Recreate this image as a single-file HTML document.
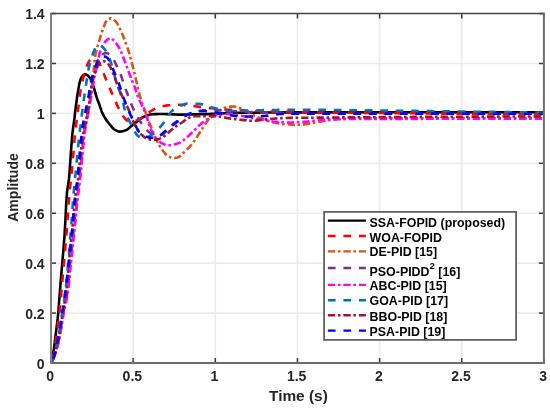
<!DOCTYPE html>
<html><head><meta charset="utf-8"><style>
html,body{margin:0;padding:0;background:#fff;}
body{width:550px;height:412px;overflow:hidden;}
svg{display:block;}
text{font-family:"Liberation Sans",Arial,sans-serif;font-weight:bold;}
</style></head><body>
<svg width="550" height="412" viewBox="0 0 550 412">
<rect width="550" height="412" fill="#fff"/>
<defs><clipPath id="ax"><rect x="51.0" y="13.55" width="492.90" height="349.45"/></clipPath></defs>
<g stroke="#ebebeb" stroke-width="1.6"><line x1="133.15" y1="13.55" x2="133.15" y2="363.00"/><line x1="215.30" y1="13.55" x2="215.30" y2="363.00"/><line x1="297.45" y1="13.55" x2="297.45" y2="363.00"/><line x1="379.60" y1="13.55" x2="379.60" y2="363.00"/><line x1="461.75" y1="13.55" x2="461.75" y2="363.00"/><line x1="51.00" y1="313.08" x2="543.90" y2="313.08"/><line x1="51.00" y1="263.16" x2="543.90" y2="263.16"/><line x1="51.00" y1="213.24" x2="543.90" y2="213.24"/><line x1="51.00" y1="163.31" x2="543.90" y2="163.31"/><line x1="51.00" y1="113.39" x2="543.90" y2="113.39"/><line x1="51.00" y1="63.47" x2="543.90" y2="63.47"/></g>
<g fill="none" stroke-width="2.6" stroke-linejoin="round" clip-path="url(#ax)">
<path d="M51.0 363.0 L51.7 360.2 L52.5 356.9 L53.2 353.0 L53.9 349.0 L54.5 344.3 L55.1 339.2 L55.8 334.0 L56.4 329.1 L57.0 324.0 L57.7 318.5 L58.3 312.3 L59.0 303.0 L59.8 293.0 L60.4 285.2 L61.0 277.6 L61.7 270.1 L62.3 262.5 L63.1 253.5 L63.8 244.6 L64.6 234.5 L65.4 220.2 L66.2 204.1 L67.0 192.3 L67.7 187.4 L68.3 183.7 L69.0 178.9 L69.6 171.5 L70.2 162.8 L70.9 152.5 L71.7 142.2 L72.4 133.7 L73.1 127.9 L73.8 123.1 L74.5 118.0 L75.2 111.4 L76.0 105.0 L76.7 100.1 L77.3 95.5 L78.0 91.5 L78.6 87.9 L79.2 84.5 L79.9 81.6 L80.5 79.5 L81.3 77.8 L82.0 76.5 L82.8 75.6 L83.6 75.0 L84.3 74.5 L85.1 74.3 L85.8 74.4 L86.4 74.7 L87.1 75.1 L87.8 75.5 L88.6 76.2 L89.3 77.1 L90.1 78.2 L90.9 79.5 L91.6 81.1 L92.3 83.0 L93.1 85.2 L93.8 87.5 L94.5 89.9 L95.2 92.5 L96.0 95.1 L96.7 97.5 L97.4 99.5 L98.1 101.3 L98.8 103.1 L99.5 105.0 L100.1 106.8 L100.8 108.8 L101.4 110.6 L102.0 112.2 L102.8 113.9 L103.6 115.5 L104.4 116.9 L105.2 118.2 L106.0 119.5 L106.8 120.7 L107.6 121.8 L108.4 122.8 L109.2 123.8 L110.0 124.8 L110.8 125.7 L111.5 126.6 L112.2 127.5 L113.0 128.3 L113.8 129.0 L114.5 129.5 L115.3 130.0 L116.1 130.5 L117.0 130.9 L117.8 131.3 L118.6 131.5 L119.4 131.6 L120.2 131.6 L121.0 131.5 L121.8 131.4 L122.6 131.2 L123.4 131.0 L124.2 130.8 L125.0 130.6 L125.8 130.3 L126.6 129.9 L127.4 129.4 L128.2 128.8 L129.0 128.2 L129.7 127.5 L130.5 126.8 L131.3 126.1 L132.1 125.4 L132.9 124.7 L133.7 124.1 L134.5 123.5 L135.3 122.9 L136.1 122.3 L136.8 121.6 L137.6 121.0 L138.4 120.4 L139.2 119.7 L140.0 119.1 L140.8 118.6 L141.5 118.1 L142.3 117.6 L143.1 117.2 L143.9 116.8 L144.7 116.5 L145.5 116.1 L146.3 115.8 L147.1 115.5 L147.9 115.2 L148.7 115.0 L149.5 114.7 L150.3 114.5 L151.1 114.4 L151.9 114.3 L152.7 114.2 L153.5 114.2 L154.3 114.1 L155.0 114.1 L155.8 114.1 L156.6 114.1 L157.4 114.1 L158.1 114.0 L158.9 114.0 L159.7 114.0 L160.5 114.0 L161.2 114.0 L162.0 114.0 L162.8 114.0 L163.6 114.0 L164.4 114.0 L165.3 114.0 L166.1 114.1 L166.9 114.1 L167.7 114.1 L168.5 114.2 L169.4 114.2 L170.2 114.2 L171.0 114.3 L171.8 114.3 L172.6 114.4 L173.4 114.4 L174.3 114.4 L175.1 114.5 L175.9 114.5 L176.7 114.5 L177.5 114.6 L178.4 114.6 L179.2 114.6 L180.0 114.6 L180.8 114.6 L181.6 114.6 L182.4 114.6 L183.2 114.6 L184.0 114.6 L184.8 114.6 L185.6 114.6 L186.4 114.6 L187.2 114.5 L188.0 114.5 L188.8 114.5 L189.6 114.5 L190.4 114.5 L191.2 114.5 L192.0 114.5 L192.8 114.4 L193.6 114.4 L194.4 114.4 L195.2 114.4 L196.0 114.4 L196.8 114.4 L197.6 114.3 L198.4 114.3 L199.2 114.3 L200.0 114.3 L200.8 114.3 L201.6 114.3 L202.4 114.2 L203.3 114.2 L204.1 114.2 L204.9 114.2 L205.7 114.1 L206.5 114.1 L207.3 114.1 L208.2 114.0 L209.0 114.0 L209.8 114.0 L210.6 113.9 L211.4 113.9 L212.2 113.9 L213.1 113.8 L213.9 113.8 L214.7 113.8 L215.5 113.7 L216.3 113.7 L217.1 113.6 L218.0 113.6 L218.8 113.6 L219.6 113.5 L220.4 113.5 L221.2 113.4 L222.0 113.4 L222.9 113.4 L223.7 113.3 L224.5 113.3 L225.3 113.3 L226.1 113.2 L226.9 113.2 L227.8 113.2 L228.6 113.1 L229.4 113.1 L230.2 113.1 L231.0 113.0 L231.8 113.0 L232.7 113.0 L233.5 112.9 L234.3 112.9 L235.1 112.9 L235.9 112.9 L236.7 112.9 L237.6 112.8 L238.4 112.8 L239.2 112.8 L240.0 112.8 L240.8 112.8 L241.6 112.8 L242.5 112.8 L243.3 112.8 L244.1 112.8 L244.9 112.7 L245.8 112.7 L246.6 112.7 L247.4 112.7 L248.2 112.7 L249.0 112.7 L249.9 112.7 L250.7 112.7 L251.5 112.7 L252.3 112.7 L253.2 112.7 L254.0 112.7 L254.8 112.6 L255.6 112.6 L256.4 112.6 L257.3 112.6 L258.1 112.6 L258.9 112.6 L259.7 112.6 L260.5 112.6 L261.4 112.6 L262.2 112.6 L263.0 112.6 L263.8 112.6 L264.7 112.6 L265.5 112.6 L266.3 112.5 L267.1 112.5 L267.9 112.5 L268.8 112.5 L269.6 112.5 L270.4 112.5 L271.2 112.5 L272.1 112.5 L272.9 112.5 L273.7 112.5 L274.5 112.5 L275.3 112.5 L276.2 112.5 L277.0 112.5 L277.8 112.5 L278.6 112.5 L279.5 112.5 L280.3 112.5 L281.1 112.5 L281.9 112.5 L282.7 112.5 L283.6 112.4 L284.4 112.4 L285.2 112.4 L286.0 112.4 L286.8 112.4 L287.7 112.4 L288.5 112.4 L289.3 112.4 L290.1 112.4 L291.0 112.4 L291.8 112.4 L292.6 112.4 L293.4 112.4 L294.2 112.4 L295.1 112.4 L295.9 112.4 L296.7 112.4 L297.5 112.4 L298.4 112.4 L299.2 112.4 L300.0 112.4 L300.8 112.4 L301.7 112.4 L302.5 112.4 L303.3 112.4 L304.2 112.4 L305.0 112.4 L305.8 112.4 L306.7 112.4 L307.5 112.4 L308.3 112.4 L309.2 112.4 L310.0 112.4 L310.8 112.4 L311.7 112.4 L312.5 112.4 L313.3 112.4 L314.2 112.4 L315.0 112.4 L315.8 112.4 L316.7 112.4 L317.5 112.4 L318.3 112.4 L319.2 112.4 L320.0 112.4 L320.8 112.4 L321.7 112.4 L322.5 112.4 L323.3 112.4 L324.2 112.4 L325.0 112.4 L325.8 112.4 L326.6 112.4 L327.5 112.4 L328.3 112.4 L329.1 112.4 L330.0 112.4 L330.8 112.4 L331.6 112.3 L332.5 112.3 L333.3 112.3 L334.1 112.3 L335.0 112.3 L335.8 112.3 L336.6 112.3 L337.5 112.3 L338.3 112.3 L339.1 112.3 L340.0 112.3 L340.8 112.3 L341.6 112.3 L342.5 112.3 L343.3 112.3 L344.1 112.3 L345.0 112.3 L345.8 112.3 L346.6 112.3 L347.5 112.3 L348.3 112.3 L349.1 112.3 L350.0 112.3 L350.8 112.3 L351.6 112.3 L352.5 112.3 L353.3 112.3 L354.1 112.3 L355.0 112.3 L355.8 112.3 L356.6 112.3 L357.5 112.3 L358.3 112.3 L359.1 112.3 L360.0 112.3 L360.8 112.3 L361.6 112.3 L362.5 112.3 L363.3 112.3 L364.1 112.3 L365.0 112.3 L365.8 112.3 L366.6 112.3 L367.5 112.3 L368.3 112.3 L369.1 112.3 L370.0 112.3 L370.8 112.3 L371.6 112.3 L372.5 112.3 L373.3 112.3 L374.1 112.3 L374.9 112.3 L375.8 112.3 L376.6 112.3 L377.4 112.3 L378.3 112.3 L379.1 112.3 L379.9 112.3 L380.8 112.3 L381.6 112.3 L382.4 112.3 L383.3 112.3 L384.1 112.3 L384.9 112.3 L385.8 112.3 L386.6 112.3 L387.4 112.3 L388.3 112.3 L389.1 112.3 L389.9 112.3 L390.8 112.3 L391.6 112.3 L392.4 112.3 L393.3 112.3 L394.1 112.3 L394.9 112.3 L395.8 112.3 L396.6 112.3 L397.4 112.3 L398.3 112.3 L399.1 112.3 L399.9 112.3 L400.8 112.3 L401.6 112.3 L402.4 112.3 L403.3 112.3 L404.1 112.3 L404.9 112.3 L405.8 112.3 L406.6 112.3 L407.4 112.3 L408.3 112.3 L409.1 112.3 L409.9 112.3 L410.8 112.3 L411.6 112.3 L412.4 112.3 L413.3 112.3 L414.1 112.3 L414.9 112.3 L415.8 112.3 L416.6 112.3 L417.4 112.3 L418.3 112.3 L419.1 112.2 L419.9 112.2 L420.8 112.2 L421.6 112.2 L422.4 112.2 L423.2 112.2 L424.1 112.2 L424.9 112.2 L425.7 112.2 L426.6 112.2 L427.4 112.2 L428.2 112.2 L429.1 112.2 L429.9 112.2 L430.7 112.2 L431.6 112.2 L432.4 112.2 L433.2 112.2 L434.1 112.2 L434.9 112.2 L435.7 112.2 L436.6 112.2 L437.4 112.2 L438.2 112.2 L439.1 112.2 L439.9 112.2 L440.7 112.2 L441.6 112.2 L442.4 112.2 L443.2 112.2 L444.1 112.2 L444.9 112.2 L445.7 112.2 L446.6 112.2 L447.4 112.2 L448.2 112.2 L449.1 112.2 L449.9 112.2 L450.7 112.2 L451.6 112.2 L452.4 112.2 L453.2 112.2 L454.1 112.2 L454.9 112.2 L455.7 112.2 L456.6 112.2 L457.4 112.2 L458.2 112.2 L459.1 112.2 L459.9 112.2 L460.7 112.2 L461.6 112.2 L462.4 112.2 L463.2 112.2 L464.1 112.2 L464.9 112.2 L465.7 112.2 L466.6 112.2 L467.4 112.2 L468.2 112.2 L469.1 112.2 L469.9 112.2 L470.7 112.2 L471.5 112.2 L472.4 112.2 L473.2 112.2 L474.0 112.2 L474.9 112.2 L475.7 112.2 L476.5 112.2 L477.4 112.2 L478.2 112.2 L479.0 112.2 L479.9 112.2 L480.7 112.2 L481.5 112.2 L482.4 112.2 L483.2 112.2 L484.0 112.2 L484.9 112.2 L485.7 112.2 L486.5 112.2 L487.4 112.2 L488.2 112.2 L489.0 112.2 L489.9 112.2 L490.7 112.2 L491.5 112.2 L492.4 112.2 L493.2 112.2 L494.0 112.2 L494.9 112.2 L495.7 112.2 L496.5 112.2 L497.4 112.2 L498.2 112.2 L499.0 112.2 L499.9 112.2 L500.7 112.2 L501.5 112.2 L502.4 112.2 L503.2 112.2 L504.0 112.2 L504.9 112.2 L505.7 112.2 L506.5 112.2 L507.4 112.2 L508.2 112.2 L509.0 112.2 L509.9 112.2 L510.7 112.2 L511.5 112.2 L512.4 112.2 L513.2 112.2 L514.0 112.2 L514.9 112.2 L515.7 112.2 L516.5 112.2 L517.4 112.2 L518.2 112.2 L519.0 112.2 L519.8 112.2 L520.7 112.2 L521.5 112.2 L522.3 112.2 L523.2 112.2 L524.0 112.2 L524.8 112.2 L525.7 112.2 L526.5 112.2 L527.3 112.2 L528.2 112.2 L529.0 112.2 L529.8 112.2 L530.7 112.2 L531.5 112.2 L532.3 112.2 L533.2 112.2 L534.0 112.2 L534.8 112.2 L535.7 112.2 L536.5 112.2 L537.3 112.2 L538.2 112.2 L539.0 112.2 L539.8 112.2 L540.7 112.2 L541.5 112.2 L542.3 112.2 L543.2 112.2 L544.0 112.2" stroke="#000000"/>
<path d="M51.0 363.0 L51.7 361.3 L52.5 359.0 L53.2 356.1 L53.9 353.0 L54.6 349.2 L55.3 344.5 L56.1 339.3 L56.8 334.0 L57.5 329.0 L58.1 323.8 L58.8 318.3 L59.5 312.3 L60.1 306.3 L60.7 299.7 L61.3 293.0 L62.0 285.5 L62.6 277.9 L63.3 270.2 L64.0 262.5 L64.8 253.4 L65.6 244.1 L66.4 234.5 L67.2 224.0 L68.0 212.8 L68.8 201.9 L69.6 192.3 L70.3 185.5 L71.0 178.9 L71.8 171.0 L72.5 162.8 L73.2 155.4 L73.8 147.7 L74.4 140.3 L75.1 133.7 L75.7 128.8 L76.2 124.4 L76.8 120.0 L77.5 114.4 L78.2 108.7 L78.8 103.6 L79.4 98.4 L80.0 94.0 L80.7 89.7 L81.5 86.0 L82.2 82.6 L82.9 79.5 L83.6 76.4 L84.4 73.5 L85.1 70.8 L85.9 68.4 L86.6 66.4 L87.3 64.8 L88.0 63.3 L88.6 62.0 L89.3 61.0 L90.0 60.2 L90.8 59.5 L91.6 58.8 L92.4 58.3 L93.2 57.9 L94.0 57.8 L94.8 58.0 L95.6 58.4 L96.4 59.1 L97.2 59.9 L98.0 60.8 L98.8 61.9 L99.5 63.5 L100.3 65.3 L101.0 67.2 L101.8 69.0 L102.5 70.7 L103.3 72.5 L104.0 74.3 L104.8 76.2 L105.5 78.1 L106.2 79.9 L107.0 81.7 L107.7 83.5 L108.5 85.4 L109.4 87.3 L110.2 89.2 L111.0 91.0 L111.8 92.9 L112.7 94.7 L113.5 96.6 L114.2 98.3 L115.0 100.0 L115.7 101.7 L116.4 103.5 L117.1 105.1 L117.9 106.7 L118.6 108.2 L119.4 109.7 L120.1 111.2 L120.9 112.6 L121.7 114.0 L122.5 115.2 L123.2 116.3 L124.0 117.3 L124.7 118.1 L125.4 118.9 L126.1 119.7 L126.9 120.4 L127.6 121.0 L128.3 121.4 L129.0 121.5 L129.7 121.5 L130.4 121.5 L131.1 121.4 L131.9 121.4 L132.6 121.3 L133.3 121.3 L134.0 121.2 L134.7 121.1 L135.4 120.9 L136.1 120.6 L136.9 120.3 L137.6 120.0 L138.3 119.6 L139.0 119.3 L139.8 118.9 L140.6 118.5 L141.4 118.1 L142.3 117.7 L143.1 117.2 L143.9 116.7 L144.7 116.2 L145.5 115.6 L146.3 115.0 L147.1 114.3 L147.8 113.6 L148.6 112.9 L149.4 112.2 L150.2 111.5 L151.0 111.0 L151.8 110.5 L152.6 110.1 L153.3 109.6 L154.1 109.2 L154.9 108.8 L155.7 108.4 L156.4 108.1 L157.2 107.8 L158.0 107.5 L158.8 107.2 L159.6 107.0 L160.5 106.8 L161.3 106.6 L162.1 106.4 L162.9 106.2 L163.7 106.0 L164.5 105.9 L165.4 105.7 L166.2 105.6 L167.0 105.5 L167.8 105.4 L168.5 105.3 L169.3 105.3 L170.1 105.2 L170.8 105.1 L171.6 105.0 L172.4 105.0 L173.2 104.9 L173.9 104.9 L174.7 104.9 L175.5 104.8 L176.2 104.8 L177.0 104.8 L177.8 104.8 L178.5 104.8 L179.3 104.8 L180.1 104.9 L180.8 104.9 L181.6 104.9 L182.4 104.9 L183.2 105.0 L183.9 105.0 L184.7 105.1 L185.5 105.1 L186.2 105.2 L187.0 105.2 L187.8 105.3 L188.6 105.3 L189.4 105.4 L190.2 105.5 L191.0 105.6 L191.8 105.7 L192.6 105.8 L193.4 106.0 L194.2 106.1 L195.0 106.2 L195.8 106.3 L196.6 106.5 L197.4 106.6 L198.2 106.7 L199.0 106.8 L199.8 106.9 L200.6 107.0 L201.5 107.1 L202.3 107.2 L203.1 107.3 L203.9 107.4 L204.8 107.5 L205.6 107.6 L206.4 107.7 L207.2 107.8 L208.1 107.9 L208.9 108.0 L209.7 108.1 L210.5 108.2 L211.4 108.2 L212.2 108.3 L213.0 108.4 L213.8 108.5 L214.6 108.6 L215.4 108.6 L216.2 108.7 L217.0 108.8 L217.9 108.9 L218.7 108.9 L219.5 109.0 L220.3 109.1 L221.1 109.2 L221.9 109.2 L222.7 109.3 L223.5 109.4 L224.3 109.4 L225.1 109.5 L226.0 109.5 L226.8 109.6 L227.6 109.7 L228.4 109.7 L229.2 109.8 L230.0 109.8 L230.8 109.8 L231.6 109.9 L232.5 109.9 L233.3 110.0 L234.1 110.0 L234.9 110.1 L235.8 110.1 L236.6 110.1 L237.4 110.2 L238.2 110.2 L239.1 110.3 L239.9 110.3 L240.7 110.3 L241.5 110.4 L242.4 110.4 L243.2 110.4 L244.0 110.5 L244.8 110.5 L245.6 110.6 L246.5 110.6 L247.3 110.6 L248.1 110.7 L248.9 110.7 L249.8 110.7 L250.6 110.8 L251.4 110.8 L252.2 110.8 L253.1 110.9 L253.9 110.9 L254.7 110.9 L255.5 111.0 L256.4 111.0 L257.2 111.0 L258.0 111.1 L258.8 111.1 L259.6 111.1 L260.5 111.2 L261.3 111.2 L262.1 111.2 L262.9 111.3 L263.8 111.3 L264.6 111.3 L265.4 111.3 L266.2 111.4 L267.1 111.4 L267.9 111.4 L268.7 111.4 L269.5 111.5 L270.4 111.5 L271.2 111.5 L272.0 111.5 L272.8 111.6 L273.6 111.6 L274.5 111.6 L275.3 111.6 L276.1 111.7 L276.9 111.7 L277.8 111.7 L278.6 111.7 L279.4 111.8 L280.2 111.8 L281.1 111.8 L281.9 111.8 L282.7 111.8 L283.5 111.9 L284.4 111.9 L285.2 111.9 L286.0 111.9 L286.8 111.9 L287.6 112.0 L288.5 112.0 L289.3 112.0 L290.1 112.0 L290.9 112.0 L291.8 112.1 L292.6 112.1 L293.4 112.1 L294.2 112.1 L295.1 112.1 L295.9 112.1 L296.7 112.1 L297.5 112.2 L298.4 112.2 L299.2 112.2 L300.0 112.2 L300.8 112.2 L301.7 112.2 L302.5 112.2 L303.3 112.3 L304.1 112.3 L305.0 112.3 L305.8 112.3 L306.6 112.3 L307.4 112.3 L308.3 112.3 L309.1 112.3 L309.9 112.3 L310.7 112.4 L311.6 112.4 L312.4 112.4 L313.2 112.4 L314.0 112.4 L314.9 112.4 L315.7 112.4 L316.5 112.4 L317.4 112.4 L318.2 112.5 L319.0 112.5 L319.8 112.5 L320.7 112.5 L321.5 112.5 L322.3 112.5 L323.1 112.5 L324.0 112.5 L324.8 112.5 L325.6 112.5 L326.4 112.6 L327.3 112.6 L328.1 112.6 L328.9 112.6 L329.8 112.6 L330.6 112.6 L331.4 112.6 L332.2 112.6 L333.1 112.6 L333.9 112.6 L334.7 112.6 L335.5 112.6 L336.4 112.7 L337.2 112.7 L338.0 112.7 L338.8 112.7 L339.7 112.7 L340.5 112.7 L341.3 112.7 L342.1 112.7 L343.0 112.7 L343.8 112.7 L344.6 112.7 L345.5 112.7 L346.3 112.7 L347.1 112.8 L347.9 112.8 L348.8 112.8 L349.6 112.8 L350.4 112.8 L351.2 112.8 L352.1 112.8 L352.9 112.8 L353.7 112.8 L354.5 112.8 L355.4 112.8 L356.2 112.8 L357.0 112.8 L357.9 112.8 L358.7 112.9 L359.5 112.9 L360.3 112.9 L361.2 112.9 L362.0 112.9 L362.8 112.9 L363.6 112.9 L364.5 112.9 L365.3 112.9 L366.1 112.9 L366.9 112.9 L367.8 112.9 L368.6 112.9 L369.4 112.9 L370.2 112.9 L371.1 113.0 L371.9 113.0 L372.7 113.0 L373.6 113.0 L374.4 113.0 L375.2 113.0 L376.0 113.0 L376.9 113.0 L377.7 113.0 L378.5 113.0 L379.3 113.0 L380.2 113.0 L381.0 113.0 L381.8 113.0 L382.6 113.0 L383.5 113.1 L384.3 113.1 L385.1 113.1 L386.0 113.1 L386.8 113.1 L387.6 113.1 L388.4 113.1 L389.3 113.1 L390.1 113.1 L390.9 113.1 L391.7 113.1 L392.6 113.1 L393.4 113.1 L394.2 113.1 L395.0 113.2 L395.9 113.2 L396.7 113.2 L397.5 113.2 L398.3 113.2 L399.2 113.2 L400.0 113.2 L400.8 113.2 L401.7 113.2 L402.5 113.2 L403.3 113.2 L404.2 113.2 L405.0 113.2 L405.8 113.3 L406.7 113.3 L407.5 113.3 L408.3 113.3 L409.2 113.3 L410.0 113.3 L410.8 113.3 L411.7 113.3 L412.5 113.3 L413.3 113.3 L414.2 113.3 L415.0 113.3 L415.8 113.3 L416.6 113.4 L417.5 113.4 L418.3 113.4 L419.1 113.4 L420.0 113.4 L420.8 113.4 L421.6 113.4 L422.5 113.4 L423.3 113.4 L424.1 113.4 L425.0 113.4 L425.8 113.4 L426.6 113.5 L427.5 113.5 L428.3 113.5 L429.1 113.5 L430.0 113.5 L430.8 113.5 L431.6 113.5 L432.5 113.5 L433.3 113.5 L434.1 113.5 L435.0 113.5 L435.8 113.5 L436.6 113.5 L437.5 113.6 L438.3 113.6 L439.1 113.6 L440.0 113.6 L440.8 113.6 L441.6 113.6 L442.5 113.6 L443.3 113.6 L444.1 113.6 L444.9 113.6 L445.8 113.6 L446.6 113.6 L447.4 113.6 L448.3 113.7 L449.1 113.7 L449.9 113.7 L450.8 113.7 L451.6 113.7 L452.4 113.7 L453.3 113.7 L454.1 113.7 L454.9 113.7 L455.8 113.7 L456.6 113.7 L457.4 113.7 L458.3 113.7 L459.1 113.8 L459.9 113.8 L460.8 113.8 L461.6 113.8 L462.4 113.8 L463.3 113.8 L464.1 113.8 L464.9 113.8 L465.8 113.8 L466.6 113.8 L467.4 113.8 L468.3 113.8 L469.1 113.8 L469.9 113.9 L470.8 113.9 L471.6 113.9 L472.4 113.9 L473.2 113.9 L474.1 113.9 L474.9 113.9 L475.7 113.9 L476.6 113.9 L477.4 113.9 L478.2 113.9 L479.1 113.9 L479.9 113.9 L480.7 113.9 L481.6 114.0 L482.4 114.0 L483.2 114.0 L484.1 114.0 L484.9 114.0 L485.7 114.0 L486.6 114.0 L487.4 114.0 L488.2 114.0 L489.1 114.0 L489.9 114.0 L490.7 114.0 L491.6 114.0 L492.4 114.1 L493.2 114.1 L494.1 114.1 L494.9 114.1 L495.7 114.1 L496.6 114.1 L497.4 114.1 L498.2 114.1 L499.1 114.1 L499.9 114.1 L500.7 114.1 L501.5 114.1 L502.4 114.1 L503.2 114.1 L504.0 114.2 L504.9 114.2 L505.7 114.2 L506.5 114.2 L507.4 114.2 L508.2 114.2 L509.0 114.2 L509.9 114.2 L510.7 114.2 L511.5 114.2 L512.4 114.2 L513.2 114.2 L514.0 114.2 L514.9 114.2 L515.7 114.3 L516.5 114.3 L517.4 114.3 L518.2 114.3 L519.0 114.3 L519.9 114.3 L520.7 114.3 L521.5 114.3 L522.4 114.3 L523.2 114.3 L524.0 114.3 L524.9 114.3 L525.7 114.3 L526.5 114.4 L527.4 114.4 L528.2 114.4 L529.0 114.4 L529.8 114.4 L530.7 114.4 L531.5 114.4 L532.3 114.4 L533.2 114.4 L534.0 114.4 L534.8 114.4 L535.7 114.4 L536.5 114.4 L537.3 114.4 L538.2 114.5 L539.0 114.5 L539.8 114.5 L540.7 114.5 L541.5 114.5 L542.3 114.5 L543.2 114.5 L544.0 114.5" stroke="#ff0000" stroke-dasharray="7.7 7.8" stroke-dashoffset="-4.5"/>
<path d="M51.0 363.0 L51.8 361.9 L52.5 360.6 L53.2 359.0 L54.0 357.1 L54.8 355.1 L55.5 353.0 L56.2 350.6 L57.0 347.8 L57.8 344.7 L58.5 341.3 L59.2 337.7 L60.0 334.0 L60.7 330.1 L61.4 325.7 L62.1 321.1 L62.8 316.5 L63.5 312.3 L64.3 308.4 L65.0 304.9 L65.8 301.4 L66.5 297.6 L67.3 293.0 L68.1 286.6 L68.9 278.8 L69.7 270.5 L70.5 262.5 L71.2 255.5 L72.0 248.5 L72.8 241.6 L73.5 234.5 L74.2 227.4 L74.9 220.1 L75.7 212.7 L76.4 205.5 L77.1 198.6 L77.8 192.3 L78.4 187.8 L79.0 183.6 L79.6 178.9 L80.3 171.1 L81.1 162.8 L81.8 155.0 L82.5 147.2 L83.3 139.9 L84.0 133.7 L84.7 128.7 L85.4 124.4 L86.2 120.4 L86.9 116.6 L87.6 112.8 L88.3 108.7 L89.0 104.7 L89.7 100.6 L90.3 96.4 L91.0 92.0 L91.7 87.1 L92.5 81.9 L93.2 76.0 L93.9 68.5 L94.6 61.0 L95.1 56.8 L95.6 53.5 L96.2 50.9 L96.8 48.9 L97.4 47.0 L98.1 44.5 L98.8 42.0 L99.6 39.6 L100.3 37.2 L100.9 35.2 L101.5 33.2 L102.2 31.3 L102.8 29.5 L103.6 27.4 L104.4 25.3 L105.1 23.3 L105.9 21.7 L106.7 20.7 L107.4 20.1 L108.1 19.5 L108.8 19.0 L109.6 18.6 L110.3 18.4 L111.0 18.3 L111.8 18.4 L112.6 18.8 L113.5 19.4 L114.3 20.1 L115.1 20.9 L115.9 21.7 L116.7 22.7 L117.5 23.9 L118.2 25.4 L119.0 26.9 L119.8 28.5 L120.5 29.9 L121.2 31.4 L121.8 33.0 L122.5 34.6 L123.2 36.3 L123.9 38.1 L124.7 40.0 L125.4 42.0 L126.1 44.0 L126.8 45.8 L127.4 47.6 L128.0 49.5 L128.7 51.5 L129.3 53.6 L129.9 55.8 L130.6 58.2 L131.2 60.5 L131.8 62.8 L132.4 65.2 L133.1 67.5 L133.7 70.0 L134.3 72.7 L135.0 75.4 L135.7 78.2 L136.3 81.0 L137.0 84.0 L137.7 87.0 L138.3 90.1 L139.0 92.9 L139.7 95.5 L140.5 98.2 L141.3 100.8 L142.1 103.1 L143.0 105.4 L143.8 107.6 L144.6 109.8 L145.4 112.0 L146.2 114.2 L147.0 116.4 L147.8 118.6 L148.6 120.7 L149.5 122.9 L150.3 125.0 L151.1 127.0 L151.9 129.0 L152.7 131.0 L153.5 133.0 L154.4 135.0 L155.2 137.0 L156.0 138.9 L156.8 140.7 L157.7 142.4 L158.5 144.0 L159.3 145.4 L160.2 146.8 L161.0 148.1 L161.8 149.3 L162.6 150.4 L163.5 151.5 L164.3 152.5 L165.0 153.3 L165.7 154.1 L166.4 154.9 L167.1 155.5 L167.8 156.1 L168.5 156.5 L169.2 156.8 L170.0 157.1 L170.7 157.4 L171.4 157.7 L172.1 157.8 L172.9 158.0 L173.6 158.0 L174.3 158.0 L175.1 157.9 L175.8 157.8 L176.5 157.7 L177.3 157.5 L178.0 157.3 L178.8 157.0 L179.5 156.5 L180.3 155.9 L181.0 155.2 L181.8 154.5 L182.5 153.7 L183.3 153.0 L184.1 152.3 L184.9 151.5 L185.7 150.7 L186.5 150.0 L187.3 149.1 L188.2 148.3 L189.0 147.5 L189.8 146.6 L190.6 145.7 L191.4 144.8 L192.2 143.8 L193.0 142.8 L193.8 141.8 L194.6 140.6 L195.4 139.4 L196.2 138.2 L197.0 136.9 L197.8 135.6 L198.7 134.3 L199.5 133.0 L200.3 131.7 L201.1 130.4 L201.9 129.2 L202.7 128.0 L203.5 126.8 L204.3 125.7 L205.0 124.5 L205.8 123.3 L206.6 122.1 L207.4 121.0 L208.2 119.9 L208.9 118.9 L209.7 118.0 L210.5 117.2 L211.3 116.5 L212.1 115.8 L212.8 115.1 L213.6 114.5 L214.4 113.9 L215.2 113.4 L216.0 112.9 L216.7 112.4 L217.5 111.9 L218.3 111.4 L219.1 110.9 L219.8 110.5 L220.6 110.0 L221.4 109.5 L222.2 109.1 L222.9 108.7 L223.7 108.3 L224.5 108.0 L225.2 107.7 L226.0 107.5 L226.8 107.3 L227.6 107.2 L228.3 107.0 L229.1 106.9 L229.9 106.7 L230.7 106.6 L231.4 106.6 L232.2 106.5 L233.0 106.5 L233.8 106.5 L234.6 106.6 L235.4 106.8 L236.2 107.0 L237.0 107.2 L237.8 107.4 L238.6 107.7 L239.4 108.0 L240.2 108.2 L241.0 108.5 L241.8 108.8 L242.6 109.1 L243.5 109.5 L244.3 109.9 L245.1 110.4 L245.9 110.8 L246.8 111.3 L247.6 111.8 L248.4 112.3 L249.2 112.8 L250.1 113.3 L250.9 113.8 L251.7 114.3 L252.5 114.8 L253.4 115.2 L254.2 115.6 L255.0 116.0 L255.8 116.3 L256.6 116.7 L257.4 117.0 L258.2 117.4 L258.9 117.7 L259.7 118.0 L260.5 118.3 L261.3 118.7 L262.1 119.0 L262.9 119.3 L263.7 119.6 L264.5 119.8 L265.3 120.1 L266.1 120.4 L266.8 120.6 L267.6 120.9 L268.4 121.1 L269.2 121.3 L270.0 121.5 L270.8 121.7 L271.6 121.9 L272.4 122.1 L273.2 122.2 L273.9 122.4 L274.7 122.6 L275.5 122.8 L276.3 122.9 L277.1 123.1 L277.9 123.3 L278.7 123.4 L279.5 123.5 L280.3 123.7 L281.1 123.8 L281.8 123.9 L282.6 124.0 L283.4 124.1 L284.2 124.1 L285.0 124.2 L285.8 124.3 L286.6 124.3 L287.4 124.4 L288.2 124.4 L288.9 124.4 L289.7 124.5 L290.5 124.5 L291.3 124.6 L292.1 124.6 L292.9 124.6 L293.7 124.7 L294.5 124.7 L295.3 124.7 L296.1 124.7 L296.8 124.8 L297.6 124.8 L298.4 124.8 L299.2 124.8 L300.0 124.8 L300.8 124.8 L301.6 124.8 L302.4 124.7 L303.2 124.6 L303.9 124.5 L304.7 124.4 L305.5 124.3 L306.3 124.2 L307.1 124.0 L307.9 123.9 L308.7 123.7 L309.5 123.5 L310.3 123.4 L311.1 123.2 L311.8 123.1 L312.6 122.9 L313.4 122.8 L314.2 122.6 L315.0 122.5 L315.8 122.4 L316.6 122.2 L317.4 122.1 L318.2 122.0 L319.0 121.8 L319.8 121.7 L320.6 121.6 L321.4 121.4 L322.2 121.3 L323.0 121.1 L323.8 121.0 L324.6 120.9 L325.4 120.7 L326.2 120.6 L327.0 120.5 L327.8 120.3 L328.6 120.2 L329.4 120.1 L330.2 120.0 L331.0 119.9 L331.8 119.8 L332.6 119.7 L333.4 119.6 L334.2 119.6 L335.0 119.5 L335.8 119.4 L336.6 119.4 L337.4 119.3 L338.2 119.3 L339.0 119.2 L339.8 119.2 L340.6 119.2 L341.5 119.1 L342.3 119.1 L343.1 119.0 L343.9 119.0 L344.7 118.9 L345.5 118.9 L346.3 118.9 L347.1 118.8 L347.9 118.8 L348.7 118.8 L349.5 118.7 L350.3 118.7 L351.1 118.7 L351.9 118.6 L352.7 118.6 L353.5 118.6 L354.4 118.6 L355.2 118.6 L356.0 118.5 L356.8 118.5 L357.6 118.5 L358.4 118.5 L359.2 118.5 L360.0 118.5 L360.8 118.5 L361.7 118.5 L362.5 118.5 L363.3 118.5 L364.2 118.5 L365.0 118.5 L365.8 118.5 L366.7 118.5 L367.5 118.5 L368.3 118.5 L369.2 118.5 L370.0 118.5 L370.8 118.5 L371.7 118.5 L372.5 118.5 L373.3 118.4 L374.2 118.4 L375.0 118.4 L375.8 118.4 L376.7 118.4 L377.5 118.4 L378.3 118.4 L379.1 118.4 L380.0 118.4 L380.8 118.4 L381.6 118.4 L382.5 118.4 L383.3 118.4 L384.1 118.4 L385.0 118.4 L385.8 118.4 L386.6 118.4 L387.5 118.4 L388.3 118.4 L389.1 118.4 L390.0 118.4 L390.8 118.4 L391.6 118.4 L392.5 118.4 L393.3 118.4 L394.1 118.4 L395.0 118.4 L395.8 118.4 L396.6 118.4 L397.5 118.4 L398.3 118.4 L399.1 118.4 L400.0 118.4 L400.8 118.4 L401.6 118.4 L402.5 118.4 L403.3 118.4 L404.1 118.4 L405.0 118.4 L405.8 118.3 L406.6 118.3 L407.5 118.3 L408.3 118.3 L409.1 118.3 L410.0 118.3 L410.8 118.3 L411.6 118.3 L412.5 118.3 L413.3 118.3 L414.1 118.3 L415.0 118.3 L415.8 118.3 L416.6 118.3 L417.4 118.3 L418.3 118.3 L419.1 118.3 L419.9 118.3 L420.8 118.3 L421.6 118.3 L422.4 118.3 L423.3 118.3 L424.1 118.3 L424.9 118.3 L425.8 118.3 L426.6 118.3 L427.4 118.3 L428.3 118.3 L429.1 118.3 L429.9 118.3 L430.8 118.3 L431.6 118.3 L432.4 118.3 L433.3 118.3 L434.1 118.3 L434.9 118.3 L435.8 118.3 L436.6 118.3 L437.4 118.3 L438.3 118.3 L439.1 118.3 L439.9 118.3 L440.8 118.3 L441.6 118.3 L442.4 118.3 L443.3 118.3 L444.1 118.3 L444.9 118.3 L445.8 118.3 L446.6 118.3 L447.4 118.3 L448.3 118.3 L449.1 118.3 L449.9 118.3 L450.8 118.3 L451.6 118.3 L452.4 118.3 L453.2 118.3 L454.1 118.3 L454.9 118.3 L455.7 118.3 L456.6 118.2 L457.4 118.2 L458.2 118.2 L459.1 118.2 L459.9 118.2 L460.7 118.2 L461.6 118.2 L462.4 118.2 L463.2 118.2 L464.1 118.2 L464.9 118.2 L465.7 118.2 L466.6 118.2 L467.4 118.2 L468.2 118.2 L469.1 118.2 L469.9 118.2 L470.7 118.2 L471.6 118.2 L472.4 118.2 L473.2 118.2 L474.1 118.2 L474.9 118.2 L475.7 118.2 L476.6 118.2 L477.4 118.2 L478.2 118.2 L479.1 118.2 L479.9 118.2 L480.7 118.2 L481.6 118.2 L482.4 118.2 L483.2 118.2 L484.1 118.2 L484.9 118.2 L485.7 118.2 L486.6 118.2 L487.4 118.2 L488.2 118.2 L489.0 118.2 L489.9 118.2 L490.7 118.2 L491.5 118.2 L492.4 118.2 L493.2 118.2 L494.0 118.2 L494.9 118.2 L495.7 118.2 L496.5 118.2 L497.4 118.2 L498.2 118.2 L499.0 118.2 L499.9 118.2 L500.7 118.2 L501.5 118.2 L502.4 118.2 L503.2 118.2 L504.0 118.2 L504.9 118.2 L505.7 118.2 L506.5 118.2 L507.4 118.2 L508.2 118.2 L509.0 118.2 L509.9 118.2 L510.7 118.2 L511.5 118.2 L512.4 118.2 L513.2 118.2 L514.0 118.2 L514.9 118.2 L515.7 118.2 L516.5 118.2 L517.4 118.2 L518.2 118.2 L519.0 118.2 L519.9 118.2 L520.7 118.2 L521.5 118.2 L522.4 118.2 L523.2 118.2 L524.0 118.2 L524.9 118.2 L525.7 118.2 L526.5 118.2 L527.3 118.2 L528.2 118.2 L529.0 118.2 L529.8 118.2 L530.7 118.2 L531.5 118.2 L532.3 118.2 L533.2 118.2 L534.0 118.2 L534.8 118.2 L535.7 118.2 L536.5 118.2 L537.3 118.2 L538.2 118.2 L539.0 118.2 L539.8 118.2 L540.7 118.2 L541.5 118.2 L542.3 118.2 L543.2 118.2 L544.0 118.2" stroke="#d95319" stroke-dasharray="7.3 2.7 2.6 2.9"/>
<path d="M51.0 363.0 L51.7 361.9 L52.4 360.5 L53.1 358.9 L53.9 357.1 L54.6 355.1 L55.3 353.0 L56.0 350.6 L56.8 347.8 L57.5 344.7 L58.3 341.3 L59.0 337.7 L59.8 334.0 L60.5 330.1 L61.2 325.7 L61.9 321.0 L62.6 316.5 L63.3 312.3 L64.1 308.4 L64.9 304.9 L65.6 301.5 L66.4 297.7 L67.2 293.0 L68.0 286.8 L68.7 278.9 L69.5 270.4 L70.2 262.5 L71.0 255.4 L71.7 248.5 L72.5 241.6 L73.2 234.5 L74.0 226.0 L74.8 217.0 L75.7 208.0 L76.5 199.6 L77.3 192.3 L78.0 187.7 L78.6 183.7 L79.3 178.9 L80.0 171.2 L80.8 162.8 L81.5 155.0 L82.3 147.2 L83.0 140.0 L83.8 133.7 L84.5 128.8 L85.2 124.5 L85.9 120.6 L86.6 116.8 L87.3 112.9 L88.0 108.7 L88.6 104.6 L89.2 100.3 L89.9 96.0 L90.5 92.0 L91.1 88.2 L91.8 84.6 L92.4 81.1 L93.0 78.0 L93.8 74.5 L94.5 71.3 L95.2 68.4 L96.0 66.0 L96.7 64.1 L97.4 62.5 L98.1 61.0 L98.8 59.7 L99.5 58.5 L100.2 57.3 L101.0 56.1 L101.8 55.1 L102.5 54.5 L103.3 54.0 L104.1 53.6 L104.9 53.3 L105.7 53.1 L106.5 53.0 L107.2 53.1 L107.9 53.4 L108.6 53.8 L109.3 54.3 L110.0 54.8 L110.8 55.5 L111.5 56.4 L112.2 57.4 L113.0 58.5 L113.7 59.7 L114.5 61.1 L115.2 62.7 L115.9 64.3 L116.7 65.9 L117.4 67.5 L118.2 69.2 L119.1 70.9 L119.9 72.7 L120.7 74.6 L121.5 76.9 L122.3 79.4 L123.2 82.0 L124.0 84.5 L124.8 86.7 L125.5 88.8 L126.3 90.9 L127.1 93.0 L127.8 95.0 L128.6 97.0 L129.3 98.9 L130.1 100.8 L130.8 102.6 L131.5 104.5 L132.2 106.2 L133.0 108.0 L133.7 109.6 L134.4 111.2 L135.1 112.6 L135.9 114.0 L136.6 115.4 L137.3 116.7 L138.1 118.0 L138.8 119.2 L139.5 120.4 L140.3 121.6 L141.0 122.7 L141.7 123.8 L142.4 125.0 L143.2 126.1 L143.9 127.0 L144.7 127.9 L145.4 128.7 L146.2 129.5 L146.9 130.3 L147.7 131.0 L148.5 131.6 L149.2 132.2 L150.0 132.8 L150.8 133.4 L151.5 134.0 L152.2 134.5 L153.0 135.1 L153.8 135.6 L154.5 136.0 L155.2 136.2 L156.0 136.3 L156.8 136.3 L157.5 136.1 L158.2 136.0 L159.0 135.7 L159.8 135.5 L160.5 135.2 L161.2 134.8 L162.0 134.5 L162.8 134.1 L163.5 133.6 L164.3 132.9 L165.1 132.2 L165.8 131.5 L166.6 130.6 L167.4 129.8 L168.2 128.9 L168.9 128.0 L169.7 127.2 L170.5 126.4 L171.2 125.7 L172.0 125.0 L172.8 124.3 L173.6 123.7 L174.4 123.1 L175.2 122.4 L176.1 121.8 L176.9 121.2 L177.7 120.6 L178.5 120.0 L179.3 119.4 L180.1 118.9 L180.9 118.3 L181.8 117.8 L182.6 117.3 L183.4 116.9 L184.2 116.4 L185.0 116.0 L185.8 115.6 L186.5 115.2 L187.3 114.9 L188.1 114.5 L188.8 114.2 L189.6 113.8 L190.4 113.5 L191.2 113.2 L191.9 112.9 L192.7 112.7 L193.5 112.4 L194.2 112.2 L195.0 112.0 L195.8 111.8 L196.5 111.6 L197.3 111.4 L198.1 111.3 L198.8 111.1 L199.6 110.9 L200.4 110.8 L201.2 110.6 L201.9 110.5 L202.7 110.4 L203.5 110.3 L204.2 110.2 L205.0 110.2 L205.8 110.2 L206.5 110.1 L207.3 110.1 L208.1 110.1 L208.8 110.1 L209.6 110.1 L210.4 110.0 L211.2 110.0 L211.9 110.0 L212.7 110.0 L213.5 110.0 L214.2 110.0 L215.0 110.0 L215.8 110.0 L216.5 110.0 L217.3 110.0 L218.1 110.1 L218.8 110.1 L219.6 110.2 L220.4 110.2 L221.2 110.3 L221.9 110.3 L222.7 110.4 L223.5 110.4 L224.2 110.5 L225.0 110.5 L225.8 110.5 L226.6 110.6 L227.4 110.6 L228.2 110.7 L228.9 110.8 L229.7 110.8 L230.5 110.9 L231.3 110.9 L232.1 111.0 L232.9 111.0 L233.7 111.1 L234.5 111.2 L235.3 111.2 L236.1 111.3 L236.8 111.3 L237.6 111.4 L238.4 111.4 L239.2 111.5 L240.0 111.5 L240.8 111.5 L241.6 111.6 L242.5 111.6 L243.3 111.7 L244.1 111.7 L244.9 111.8 L245.8 111.8 L246.6 111.8 L247.4 111.9 L248.2 111.9 L249.0 112.0 L249.9 112.0 L250.7 112.0 L251.5 112.1 L252.3 112.1 L253.2 112.2 L254.0 112.2 L254.8 112.3 L255.6 112.3 L256.4 112.3 L257.3 112.4 L258.1 112.4 L258.9 112.5 L259.7 112.5 L260.5 112.5 L261.4 112.6 L262.2 112.6 L263.0 112.7 L263.8 112.7 L264.7 112.7 L265.5 112.8 L266.3 112.8 L267.1 112.9 L267.9 112.9 L268.8 112.9 L269.6 113.0 L270.4 113.0 L271.2 113.0 L272.1 113.1 L272.9 113.1 L273.7 113.1 L274.5 113.2 L275.3 113.2 L276.2 113.2 L277.0 113.3 L277.8 113.3 L278.6 113.3 L279.5 113.3 L280.3 113.4 L281.1 113.4 L281.9 113.4 L282.7 113.4 L283.6 113.5 L284.4 113.5 L285.2 113.5 L286.0 113.5 L286.8 113.5 L287.7 113.6 L288.5 113.6 L289.3 113.6 L290.1 113.6 L291.0 113.6 L291.8 113.6 L292.6 113.6 L293.4 113.7 L294.2 113.7 L295.1 113.7 L295.9 113.7 L296.7 113.7 L297.5 113.7 L298.4 113.7 L299.2 113.7 L300.0 113.7 L300.8 113.7 L301.7 113.7 L302.5 113.7 L303.3 113.7 L304.2 113.7 L305.0 113.7 L305.8 113.7 L306.7 113.7 L307.5 113.7 L308.3 113.7 L309.2 113.7 L310.0 113.7 L310.8 113.7 L311.7 113.7 L312.5 113.7 L313.3 113.7 L314.2 113.7 L315.0 113.7 L315.8 113.7 L316.7 113.7 L317.5 113.7 L318.3 113.7 L319.2 113.7 L320.0 113.7 L320.8 113.7 L321.7 113.7 L322.5 113.7 L323.3 113.7 L324.2 113.7 L325.0 113.7 L325.8 113.7 L326.6 113.7 L327.5 113.7 L328.3 113.7 L329.1 113.7 L330.0 113.7 L330.8 113.7 L331.6 113.7 L332.5 113.7 L333.3 113.7 L334.1 113.7 L335.0 113.7 L335.8 113.7 L336.6 113.7 L337.5 113.7 L338.3 113.7 L339.1 113.7 L340.0 113.7 L340.8 113.7 L341.6 113.7 L342.5 113.7 L343.3 113.7 L344.1 113.7 L345.0 113.7 L345.8 113.7 L346.6 113.7 L347.5 113.7 L348.3 113.7 L349.1 113.7 L350.0 113.7 L350.8 113.7 L351.6 113.7 L352.5 113.7 L353.3 113.7 L354.1 113.7 L355.0 113.7 L355.8 113.7 L356.6 113.7 L357.5 113.7 L358.3 113.7 L359.1 113.7 L360.0 113.7 L360.8 113.7 L361.6 113.7 L362.5 113.7 L363.3 113.7 L364.1 113.7 L365.0 113.7 L365.8 113.7 L366.6 113.7 L367.5 113.7 L368.3 113.7 L369.1 113.7 L370.0 113.7 L370.8 113.7 L371.6 113.7 L372.5 113.7 L373.3 113.7 L374.1 113.7 L374.9 113.7 L375.8 113.7 L376.6 113.7 L377.4 113.7 L378.3 113.7 L379.1 113.7 L379.9 113.7 L380.8 113.7 L381.6 113.7 L382.4 113.7 L383.3 113.7 L384.1 113.7 L384.9 113.7 L385.8 113.7 L386.6 113.7 L387.4 113.7 L388.3 113.7 L389.1 113.7 L389.9 113.7 L390.8 113.7 L391.6 113.7 L392.4 113.7 L393.3 113.7 L394.1 113.7 L394.9 113.7 L395.8 113.7 L396.6 113.7 L397.4 113.7 L398.3 113.7 L399.1 113.7 L399.9 113.7 L400.8 113.7 L401.6 113.7 L402.4 113.7 L403.3 113.7 L404.1 113.7 L404.9 113.7 L405.8 113.7 L406.6 113.7 L407.4 113.7 L408.3 113.7 L409.1 113.7 L409.9 113.7 L410.8 113.7 L411.6 113.7 L412.4 113.7 L413.3 113.7 L414.1 113.7 L414.9 113.7 L415.8 113.7 L416.6 113.7 L417.4 113.7 L418.3 113.7 L419.1 113.7 L419.9 113.7 L420.8 113.7 L421.6 113.7 L422.4 113.7 L423.2 113.7 L424.1 113.7 L424.9 113.7 L425.7 113.7 L426.6 113.7 L427.4 113.7 L428.2 113.7 L429.1 113.7 L429.9 113.7 L430.7 113.7 L431.6 113.7 L432.4 113.7 L433.2 113.7 L434.1 113.7 L434.9 113.7 L435.7 113.7 L436.6 113.7 L437.4 113.7 L438.2 113.7 L439.1 113.7 L439.9 113.7 L440.7 113.7 L441.6 113.7 L442.4 113.7 L443.2 113.7 L444.1 113.7 L444.9 113.7 L445.7 113.7 L446.6 113.7 L447.4 113.7 L448.2 113.7 L449.1 113.7 L449.9 113.7 L450.7 113.7 L451.6 113.7 L452.4 113.7 L453.2 113.7 L454.1 113.7 L454.9 113.7 L455.7 113.7 L456.6 113.7 L457.4 113.7 L458.2 113.7 L459.1 113.7 L459.9 113.7 L460.7 113.7 L461.6 113.7 L462.4 113.7 L463.2 113.7 L464.1 113.7 L464.9 113.7 L465.7 113.7 L466.6 113.7 L467.4 113.7 L468.2 113.7 L469.1 113.7 L469.9 113.7 L470.7 113.7 L471.5 113.7 L472.4 113.7 L473.2 113.7 L474.0 113.7 L474.9 113.7 L475.7 113.7 L476.5 113.7 L477.4 113.7 L478.2 113.7 L479.0 113.7 L479.9 113.7 L480.7 113.7 L481.5 113.7 L482.4 113.7 L483.2 113.7 L484.0 113.7 L484.9 113.7 L485.7 113.7 L486.5 113.7 L487.4 113.7 L488.2 113.7 L489.0 113.7 L489.9 113.7 L490.7 113.7 L491.5 113.7 L492.4 113.7 L493.2 113.7 L494.0 113.7 L494.9 113.7 L495.7 113.7 L496.5 113.7 L497.4 113.7 L498.2 113.7 L499.0 113.7 L499.9 113.7 L500.7 113.7 L501.5 113.7 L502.4 113.7 L503.2 113.7 L504.0 113.7 L504.9 113.7 L505.7 113.7 L506.5 113.7 L507.4 113.7 L508.2 113.7 L509.0 113.7 L509.9 113.7 L510.7 113.7 L511.5 113.7 L512.4 113.7 L513.2 113.7 L514.0 113.7 L514.9 113.7 L515.7 113.7 L516.5 113.7 L517.4 113.7 L518.2 113.7 L519.0 113.7 L519.8 113.7 L520.7 113.7 L521.5 113.7 L522.3 113.7 L523.2 113.7 L524.0 113.7 L524.8 113.7 L525.7 113.7 L526.5 113.7 L527.3 113.7 L528.2 113.7 L529.0 113.7 L529.8 113.7 L530.7 113.7 L531.5 113.7 L532.3 113.7 L533.2 113.7 L534.0 113.7 L534.8 113.7 L535.7 113.7 L536.5 113.7 L537.3 113.7 L538.2 113.7 L539.0 113.7 L539.8 113.7 L540.7 113.7 L541.5 113.7 L542.3 113.7 L543.2 113.7 L544.0 113.7" stroke="#7e2f8e" stroke-dasharray="7.7 7.8" stroke-dashoffset="-4"/>
<path d="M51.0 363.0 L51.8 361.9 L52.5 360.5 L53.2 358.9 L54.0 357.1 L54.8 355.1 L55.5 353.0 L56.3 350.6 L57.1 347.8 L57.9 344.7 L58.6 341.3 L59.4 337.8 L60.2 334.0 L60.9 330.1 L61.6 325.7 L62.4 321.0 L63.1 316.5 L63.8 312.3 L64.6 308.4 L65.4 304.9 L66.2 301.5 L67.0 297.6 L67.8 293.0 L68.6 286.7 L69.4 278.9 L70.2 270.5 L71.0 262.5 L71.8 255.5 L72.5 248.5 L73.2 241.5 L74.0 234.5 L74.7 227.4 L75.5 220.1 L76.2 212.7 L76.9 205.5 L77.7 198.7 L78.4 192.3 L79.0 187.8 L79.6 183.6 L80.2 178.9 L81.0 171.1 L81.7 162.8 L82.4 155.0 L83.2 147.1 L83.9 139.8 L84.6 133.7 L85.2 129.4 L85.9 125.7 L86.5 122.3 L87.2 118.8 L87.8 115.4 L88.4 112.0 L89.0 108.7 L89.6 105.3 L90.2 102.0 L90.9 98.6 L91.5 95.0 L92.2 90.3 L93.0 85.4 L93.7 81.0 L94.4 77.5 L95.1 74.2 L95.8 71.0 L96.4 68.2 L97.0 65.3 L97.6 62.5 L98.3 59.1 L99.0 55.8 L99.7 53.0 L100.3 50.8 L101.0 49.3 L101.6 48.1 L102.3 47.0 L103.0 45.7 L103.7 44.3 L104.3 43.0 L105.0 41.9 L105.7 41.1 L106.5 40.4 L107.3 39.7 L108.1 39.1 L108.9 38.6 L109.7 38.3 L110.5 38.2 L111.3 38.4 L112.0 38.8 L112.8 39.5 L113.6 40.3 L114.4 41.2 L115.1 42.2 L115.9 43.1 L116.7 44.0 L117.5 45.1 L118.2 46.2 L119.0 47.5 L119.8 48.9 L120.5 50.4 L121.3 52.2 L122.0 54.1 L122.8 56.1 L123.5 58.0 L124.2 59.9 L125.0 61.8 L125.8 63.8 L126.5 65.8 L127.2 67.7 L127.9 69.7 L128.6 71.6 L129.3 73.5 L130.0 75.3 L130.7 77.0 L131.3 78.7 L132.0 80.4 L132.6 81.9 L133.2 83.4 L133.9 84.9 L134.5 86.5 L135.2 88.6 L136.0 90.9 L136.7 93.3 L137.5 95.5 L138.2 97.5 L139.0 99.4 L139.8 101.1 L140.7 102.8 L141.5 104.5 L142.3 106.1 L143.1 107.7 L143.8 109.4 L144.6 111.1 L145.4 113.0 L146.1 115.0 L146.8 117.3 L147.6 119.8 L148.3 122.2 L149.0 124.5 L149.7 126.5 L150.4 128.3 L151.2 130.0 L151.9 131.6 L152.6 133.1 L153.4 134.4 L154.1 135.5 L154.9 136.6 L155.7 137.7 L156.5 138.7 L157.3 139.6 L158.2 140.5 L159.0 141.3 L159.8 142.0 L160.6 142.5 L161.4 143.0 L162.2 143.4 L163.0 143.8 L163.8 144.1 L164.6 144.4 L165.5 144.7 L166.3 145.0 L167.1 145.1 L167.9 145.3 L168.7 145.3 L169.5 145.3 L170.3 145.2 L171.1 145.1 L171.9 145.0 L172.7 144.9 L173.4 144.7 L174.2 144.5 L175.0 144.3 L175.8 144.1 L176.6 143.8 L177.4 143.6 L178.2 143.3 L179.0 143.0 L179.8 142.6 L180.6 142.1 L181.5 141.6 L182.3 141.0 L183.1 140.5 L183.9 139.9 L184.7 139.3 L185.5 138.7 L186.3 138.1 L187.1 137.4 L187.8 136.6 L188.6 135.9 L189.4 135.1 L190.2 134.3 L191.0 133.6 L191.8 132.8 L192.6 132.1 L193.4 131.3 L194.2 130.5 L195.0 129.6 L195.8 128.8 L196.5 128.0 L197.3 127.2 L198.1 126.5 L198.9 125.7 L199.7 125.0 L200.5 124.3 L201.3 123.6 L202.1 123.0 L202.9 122.3 L203.7 121.7 L204.5 121.1 L205.3 120.5 L206.1 120.0 L206.9 119.5 L207.7 119.0 L208.5 118.5 L209.4 118.1 L210.2 117.6 L211.0 117.2 L211.8 116.8 L212.7 116.4 L213.5 116.0 L214.3 115.7 L215.1 115.4 L216.0 115.2 L216.8 115.0 L217.6 114.8 L218.4 114.7 L219.3 114.6 L220.1 114.4 L220.9 114.3 L221.7 114.2 L222.5 114.1 L223.4 114.1 L224.2 114.0 L225.0 114.0 L225.8 114.0 L226.5 114.0 L227.3 114.0 L228.1 114.1 L228.8 114.1 L229.6 114.1 L230.4 114.2 L231.2 114.2 L231.9 114.3 L232.7 114.3 L233.5 114.4 L234.2 114.4 L235.0 114.5 L235.8 114.6 L236.5 114.7 L237.3 114.8 L238.1 114.9 L238.8 115.1 L239.6 115.3 L240.4 115.4 L241.2 115.6 L241.9 115.8 L242.7 116.0 L243.5 116.2 L244.2 116.3 L245.0 116.5 L245.8 116.7 L246.6 116.8 L247.4 117.0 L248.2 117.1 L248.9 117.3 L249.7 117.5 L250.5 117.6 L251.3 117.8 L252.1 118.0 L252.9 118.1 L253.7 118.3 L254.5 118.5 L255.3 118.6 L256.1 118.8 L256.8 118.9 L257.6 119.1 L258.4 119.2 L259.2 119.4 L260.0 119.5 L260.8 119.6 L261.6 119.8 L262.4 119.9 L263.2 120.1 L263.9 120.2 L264.7 120.4 L265.5 120.5 L266.3 120.6 L267.1 120.8 L267.9 120.9 L268.7 121.0 L269.5 121.2 L270.3 121.3 L271.1 121.4 L271.8 121.5 L272.6 121.6 L273.4 121.7 L274.2 121.7 L275.0 121.8 L275.8 121.9 L276.6 121.9 L277.4 122.0 L278.2 122.0 L278.9 122.1 L279.7 122.1 L280.5 122.2 L281.3 122.2 L282.1 122.3 L282.9 122.3 L283.7 122.3 L284.5 122.4 L285.3 122.4 L286.1 122.4 L286.8 122.5 L287.6 122.5 L288.4 122.5 L289.2 122.5 L290.0 122.5 L290.8 122.5 L291.6 122.5 L292.4 122.5 L293.2 122.5 L293.9 122.4 L294.7 122.4 L295.5 122.4 L296.3 122.3 L297.1 122.3 L297.9 122.3 L298.7 122.2 L299.5 122.2 L300.3 122.1 L301.1 122.1 L301.8 122.0 L302.6 122.0 L303.4 121.9 L304.2 121.9 L305.0 121.8 L305.8 121.7 L306.6 121.7 L307.4 121.6 L308.2 121.5 L308.9 121.4 L309.7 121.3 L310.5 121.2 L311.3 121.1 L312.1 121.0 L312.9 120.9 L313.7 120.7 L314.5 120.6 L315.3 120.5 L316.1 120.4 L316.8 120.3 L317.6 120.2 L318.4 120.1 L319.2 120.1 L320.0 120.0 L320.8 119.9 L321.6 119.9 L322.4 119.8 L323.2 119.8 L324.0 119.7 L324.8 119.7 L325.6 119.6 L326.4 119.5 L327.2 119.5 L328.0 119.4 L328.8 119.4 L329.6 119.3 L330.4 119.3 L331.2 119.3 L332.0 119.2 L332.8 119.2 L333.6 119.1 L334.4 119.1 L335.2 119.1 L336.0 119.1 L336.8 119.0 L337.6 119.0 L338.4 119.0 L339.2 119.0 L340.0 119.0 L340.8 119.0 L341.7 119.0 L342.5 119.0 L343.3 119.0 L344.2 119.0 L345.0 119.0 L345.8 119.0 L346.7 119.0 L347.5 119.0 L348.3 119.0 L349.2 119.0 L350.0 119.0 L350.8 119.0 L351.7 119.0 L352.5 119.0 L353.3 119.0 L354.2 119.0 L355.0 119.0 L355.8 119.0 L356.7 119.0 L357.5 119.0 L358.3 119.0 L359.2 119.0 L360.0 119.0 L360.8 119.0 L361.6 118.9 L362.5 118.9 L363.3 118.9 L364.1 118.9 L365.0 118.9 L365.8 118.9 L366.6 118.9 L367.5 118.9 L368.3 118.9 L369.1 118.9 L370.0 118.9 L370.8 118.9 L371.6 118.9 L372.5 118.9 L373.3 118.9 L374.1 118.9 L375.0 118.9 L375.8 118.9 L376.6 118.9 L377.5 118.9 L378.3 118.9 L379.1 118.9 L380.0 118.9 L380.8 118.9 L381.6 118.9 L382.5 118.9 L383.3 118.9 L384.1 118.9 L385.0 118.9 L385.8 118.9 L386.6 118.9 L387.5 118.9 L388.3 118.9 L389.1 118.9 L390.0 118.9 L390.8 118.9 L391.6 118.9 L392.5 118.9 L393.3 118.9 L394.1 118.9 L395.0 118.9 L395.8 118.9 L396.6 118.9 L397.5 118.9 L398.3 118.9 L399.1 118.9 L400.0 118.9 L400.8 118.9 L401.6 118.9 L402.4 118.9 L403.3 118.9 L404.1 118.9 L404.9 118.9 L405.8 118.9 L406.6 118.9 L407.4 118.9 L408.3 118.9 L409.1 118.9 L409.9 118.9 L410.8 118.9 L411.6 118.9 L412.4 118.9 L413.3 118.9 L414.1 118.9 L414.9 118.9 L415.8 118.9 L416.6 118.9 L417.4 118.9 L418.3 118.9 L419.1 118.9 L419.9 118.9 L420.8 118.9 L421.6 118.9 L422.4 118.9 L423.3 118.9 L424.1 118.9 L424.9 118.8 L425.8 118.8 L426.6 118.8 L427.4 118.8 L428.3 118.8 L429.1 118.8 L429.9 118.8 L430.8 118.8 L431.6 118.8 L432.4 118.8 L433.3 118.8 L434.1 118.8 L434.9 118.8 L435.8 118.8 L436.6 118.8 L437.4 118.8 L438.3 118.8 L439.1 118.8 L439.9 118.8 L440.8 118.8 L441.6 118.8 L442.4 118.8 L443.2 118.8 L444.1 118.8 L444.9 118.8 L445.7 118.8 L446.6 118.8 L447.4 118.8 L448.2 118.8 L449.1 118.8 L449.9 118.8 L450.7 118.8 L451.6 118.8 L452.4 118.8 L453.2 118.8 L454.1 118.8 L454.9 118.8 L455.7 118.8 L456.6 118.8 L457.4 118.8 L458.2 118.8 L459.1 118.8 L459.9 118.8 L460.7 118.8 L461.6 118.8 L462.4 118.8 L463.2 118.8 L464.1 118.8 L464.9 118.8 L465.7 118.8 L466.6 118.8 L467.4 118.8 L468.2 118.8 L469.1 118.8 L469.9 118.8 L470.7 118.8 L471.6 118.8 L472.4 118.8 L473.2 118.8 L474.1 118.8 L474.9 118.8 L475.7 118.8 L476.6 118.8 L477.4 118.8 L478.2 118.8 L479.1 118.8 L479.9 118.8 L480.7 118.8 L481.6 118.8 L482.4 118.8 L483.2 118.8 L484.0 118.8 L484.9 118.8 L485.7 118.8 L486.5 118.8 L487.4 118.8 L488.2 118.8 L489.0 118.8 L489.9 118.8 L490.7 118.8 L491.5 118.8 L492.4 118.8 L493.2 118.8 L494.0 118.8 L494.9 118.8 L495.7 118.8 L496.5 118.8 L497.4 118.8 L498.2 118.8 L499.0 118.8 L499.9 118.8 L500.7 118.8 L501.5 118.8 L502.4 118.8 L503.2 118.8 L504.0 118.8 L504.9 118.8 L505.7 118.8 L506.5 118.8 L507.4 118.8 L508.2 118.8 L509.0 118.8 L509.9 118.8 L510.7 118.8 L511.5 118.8 L512.4 118.8 L513.2 118.8 L514.0 118.8 L514.9 118.8 L515.7 118.8 L516.5 118.8 L517.4 118.8 L518.2 118.8 L519.0 118.8 L519.9 118.8 L520.7 118.8 L521.5 118.8 L522.4 118.8 L523.2 118.8 L524.0 118.8 L524.8 118.8 L525.7 118.8 L526.5 118.8 L527.3 118.8 L528.2 118.8 L529.0 118.8 L529.8 118.8 L530.7 118.8 L531.5 118.8 L532.3 118.8 L533.2 118.8 L534.0 118.8 L534.8 118.8 L535.7 118.8 L536.5 118.8 L537.3 118.8 L538.2 118.8 L539.0 118.8 L539.8 118.8 L540.7 118.8 L541.5 118.8 L542.3 118.8 L543.2 118.8 L544.0 118.8" stroke="#ff00ff" stroke-dasharray="7.3 2.7 2.6 2.9"/>
<path d="M51.0 363.0 L51.8 361.8 L52.6 360.1 L53.5 358.0 L54.3 355.6 L55.1 353.0 L55.9 350.1 L56.6 346.6 L57.4 342.6 L58.1 338.3 L58.9 334.0 L59.6 330.0 L60.3 325.7 L60.9 321.3 L61.6 316.8 L62.3 312.3 L63.0 307.7 L63.8 303.2 L64.5 298.4 L65.2 293.0 L66.0 286.4 L66.7 278.8 L67.5 270.7 L68.2 262.5 L69.0 253.6 L69.8 244.3 L70.6 234.5 L71.4 224.1 L72.2 213.0 L72.9 202.1 L73.7 192.3 L74.3 185.4 L75.0 178.9 L75.8 170.8 L76.6 162.8 L77.3 155.3 L78.0 147.7 L78.8 140.3 L79.5 133.7 L80.1 129.0 L80.7 124.7 L81.3 120.2 L81.9 114.4 L82.6 108.7 L83.2 104.1 L83.8 99.7 L84.4 95.5 L85.1 90.5 L85.9 85.7 L86.6 81.0 L87.4 76.1 L88.1 71.4 L88.9 67.5 L89.6 64.7 L90.3 62.3 L91.0 60.0 L91.7 57.5 L92.5 55.1 L93.2 53.0 L94.0 51.1 L94.7 49.4 L95.5 48.0 L96.3 46.7 L97.0 45.5 L97.8 45.0 L98.5 45.0 L99.2 45.1 L99.8 45.2 L100.5 45.3 L101.2 45.6 L101.9 46.1 L102.6 46.9 L103.3 47.7 L104.0 48.5 L104.8 49.4 L105.5 50.5 L106.2 51.7 L107.0 53.0 L107.6 54.2 L108.2 55.5 L108.9 57.0 L109.5 58.5 L110.1 60.2 L110.8 62.0 L111.4 64.0 L112.0 66.0 L112.6 68.1 L113.2 70.4 L113.9 72.7 L114.5 75.0 L115.1 77.3 L115.8 79.7 L116.4 81.9 L117.0 84.0 L117.8 86.1 L118.5 88.1 L119.2 90.0 L120.0 92.0 L120.6 93.9 L121.2 95.8 L121.9 97.8 L122.5 100.0 L123.2 102.7 L123.8 105.7 L124.5 108.6 L125.2 111.0 L126.0 113.1 L126.7 115.1 L127.5 116.9 L128.2 118.5 L129.0 120.1 L129.7 121.6 L130.5 123.0 L131.2 124.5 L132.0 125.9 L132.8 127.5 L133.6 129.1 L134.4 130.7 L135.1 132.2 L135.9 133.6 L136.7 134.7 L137.5 135.5 L138.2 136.1 L139.0 136.7 L139.8 137.2 L140.5 137.6 L141.2 137.9 L142.0 138.0 L142.8 138.0 L143.5 137.9 L144.2 137.8 L145.0 137.7 L145.8 137.6 L146.5 137.4 L147.2 137.2 L148.0 137.0 L148.7 136.7 L149.4 136.3 L150.1 135.8 L150.9 135.3 L151.6 134.7 L152.3 134.1 L153.0 133.5 L153.8 132.9 L154.7 132.2 L155.5 131.5 L156.3 130.8 L157.1 130.1 L157.8 129.3 L158.6 128.6 L159.4 127.8 L160.2 127.0 L160.9 126.1 L161.7 125.3 L162.5 124.4 L163.2 123.4 L164.0 122.5 L164.8 121.5 L165.5 120.4 L166.3 119.2 L167.0 118.0 L167.8 116.7 L168.6 115.5 L169.3 114.3 L170.1 113.2 L170.8 112.2 L171.6 111.4 L172.3 110.7 L173.0 110.1 L173.8 109.5 L174.5 109.0 L175.2 108.5 L176.0 108.0 L176.9 107.5 L177.7 107.0 L178.5 106.6 L179.3 106.2 L180.2 105.8 L181.0 105.5 L181.8 105.2 L182.6 104.9 L183.3 104.6 L184.1 104.3 L184.9 104.0 L185.7 103.8 L186.4 103.7 L187.2 103.5 L188.0 103.5 L188.8 103.5 L189.5 103.5 L190.3 103.5 L191.1 103.5 L191.8 103.6 L192.6 103.6 L193.4 103.6 L194.2 103.6 L194.9 103.7 L195.7 103.7 L196.5 103.7 L197.2 103.8 L198.0 103.8 L198.8 103.9 L199.6 103.9 L200.3 104.0 L201.1 104.1 L201.9 104.2 L202.7 104.4 L203.4 104.5 L204.2 104.6 L205.0 104.8 L205.8 105.0 L206.6 105.3 L207.4 105.6 L208.2 105.9 L209.1 106.3 L209.9 106.6 L210.7 106.9 L211.5 107.2 L212.3 107.5 L213.1 107.7 L213.9 107.9 L214.7 108.1 L215.5 108.3 L216.3 108.5 L217.1 108.7 L217.9 108.8 L218.7 109.0 L219.5 109.2 L220.3 109.4 L221.1 109.6 L221.9 109.8 L222.7 110.0 L223.5 110.3 L224.3 110.5 L225.2 110.7 L226.0 110.9 L226.8 111.1 L227.6 111.2 L228.4 111.3 L229.2 111.4 L230.0 111.4 L230.8 111.4 L231.6 111.4 L232.4 111.4 L233.2 111.4 L234.1 111.3 L234.9 111.3 L235.7 111.3 L236.5 111.3 L237.3 111.2 L238.1 111.2 L238.9 111.2 L239.7 111.1 L240.5 111.1 L241.4 111.1 L242.2 111.0 L243.0 111.0 L243.8 110.9 L244.6 110.9 L245.4 110.8 L246.2 110.8 L247.0 110.7 L247.8 110.7 L248.6 110.7 L249.5 110.6 L250.3 110.6 L251.1 110.5 L251.9 110.5 L252.7 110.4 L253.5 110.4 L254.3 110.4 L255.1 110.3 L255.9 110.3 L256.8 110.3 L257.6 110.3 L258.4 110.2 L259.2 110.2 L260.0 110.2 L260.8 110.2 L261.6 110.2 L262.4 110.2 L263.3 110.1 L264.1 110.1 L264.9 110.1 L265.7 110.1 L266.5 110.1 L267.3 110.1 L268.2 110.1 L269.0 110.1 L269.8 110.0 L270.6 110.0 L271.4 110.0 L272.2 110.0 L273.1 110.0 L273.9 110.0 L274.7 110.0 L275.5 110.0 L276.3 110.0 L277.1 110.0 L278.0 109.9 L278.8 109.9 L279.6 109.9 L280.4 109.9 L281.2 109.9 L282.0 109.9 L282.9 109.9 L283.7 109.9 L284.5 109.9 L285.3 109.9 L286.1 109.9 L286.9 109.9 L287.8 109.8 L288.6 109.8 L289.4 109.8 L290.2 109.8 L291.0 109.8 L291.8 109.8 L292.7 109.8 L293.5 109.8 L294.3 109.8 L295.1 109.8 L295.9 109.8 L296.7 109.8 L297.6 109.8 L298.4 109.8 L299.2 109.8 L300.0 109.8 L300.8 109.8 L301.6 109.8 L302.5 109.8 L303.3 109.8 L304.1 109.8 L304.9 109.8 L305.8 109.8 L306.6 109.8 L307.4 109.8 L308.2 109.8 L309.0 109.8 L309.9 109.8 L310.7 109.8 L311.5 109.8 L312.3 109.8 L313.2 109.8 L314.0 109.8 L314.8 109.8 L315.6 109.9 L316.4 109.9 L317.3 109.9 L318.1 109.9 L318.9 109.9 L319.7 109.9 L320.5 109.9 L321.4 109.9 L322.2 109.9 L323.0 109.9 L323.8 109.9 L324.7 109.9 L325.5 109.9 L326.3 109.9 L327.1 109.9 L327.9 110.0 L328.8 110.0 L329.6 110.0 L330.4 110.0 L331.2 110.0 L332.1 110.0 L332.9 110.0 L333.7 110.0 L334.5 110.0 L335.3 110.0 L336.2 110.0 L337.0 110.1 L337.8 110.1 L338.6 110.1 L339.5 110.1 L340.3 110.1 L341.1 110.1 L341.9 110.1 L342.7 110.1 L343.6 110.1 L344.4 110.1 L345.2 110.1 L346.0 110.2 L346.8 110.2 L347.7 110.2 L348.5 110.2 L349.3 110.2 L350.1 110.2 L351.0 110.2 L351.8 110.2 L352.6 110.2 L353.4 110.2 L354.2 110.2 L355.1 110.3 L355.9 110.3 L356.7 110.3 L357.5 110.3 L358.4 110.3 L359.2 110.3 L360.0 110.3 L360.8 110.3 L361.6 110.3 L362.5 110.3 L363.3 110.3 L364.1 110.3 L364.9 110.3 L365.8 110.4 L366.6 110.4 L367.4 110.4 L368.2 110.4 L369.0 110.4 L369.9 110.4 L370.7 110.4 L371.5 110.4 L372.3 110.4 L373.2 110.4 L374.0 110.4 L374.8 110.5 L375.6 110.5 L376.4 110.5 L377.3 110.5 L378.1 110.5 L378.9 110.5 L379.7 110.5 L380.5 110.5 L381.4 110.5 L382.2 110.5 L383.0 110.5 L383.8 110.6 L384.7 110.6 L385.5 110.6 L386.3 110.6 L387.1 110.6 L387.9 110.6 L388.8 110.6 L389.6 110.6 L390.4 110.6 L391.2 110.6 L392.1 110.7 L392.9 110.7 L393.7 110.7 L394.5 110.7 L395.3 110.7 L396.2 110.7 L397.0 110.7 L397.8 110.7 L398.6 110.7 L399.5 110.7 L400.3 110.8 L401.1 110.8 L401.9 110.8 L402.7 110.8 L403.6 110.8 L404.4 110.8 L405.2 110.8 L406.0 110.8 L406.8 110.8 L407.7 110.8 L408.5 110.9 L409.3 110.9 L410.1 110.9 L411.0 110.9 L411.8 110.9 L412.6 110.9 L413.4 110.9 L414.2 110.9 L415.1 110.9 L415.9 110.9 L416.7 111.0 L417.5 111.0 L418.4 111.0 L419.2 111.0 L420.0 111.0 L420.8 111.0 L421.7 111.0 L422.5 111.0 L423.3 111.0 L424.2 111.1 L425.0 111.1 L425.8 111.1 L426.7 111.1 L427.5 111.1 L428.3 111.1 L429.2 111.1 L430.0 111.1 L430.8 111.1 L431.7 111.1 L432.5 111.2 L433.3 111.2 L434.1 111.2 L435.0 111.2 L435.8 111.2 L436.6 111.2 L437.5 111.2 L438.3 111.2 L439.1 111.2 L440.0 111.2 L440.8 111.3 L441.6 111.3 L442.5 111.3 L443.3 111.3 L444.1 111.3 L445.0 111.3 L445.8 111.3 L446.6 111.3 L447.5 111.3 L448.3 111.3 L449.1 111.4 L450.0 111.4 L450.8 111.4 L451.6 111.4 L452.5 111.4 L453.3 111.4 L454.1 111.4 L455.0 111.4 L455.8 111.4 L456.6 111.5 L457.4 111.5 L458.3 111.5 L459.1 111.5 L459.9 111.5 L460.8 111.5 L461.6 111.5 L462.4 111.5 L463.3 111.5 L464.1 111.5 L464.9 111.6 L465.8 111.6 L466.6 111.6 L467.4 111.6 L468.3 111.6 L469.1 111.6 L469.9 111.6 L470.8 111.6 L471.6 111.6 L472.4 111.7 L473.3 111.7 L474.1 111.7 L474.9 111.7 L475.8 111.7 L476.6 111.7 L477.4 111.7 L478.3 111.7 L479.1 111.7 L479.9 111.7 L480.8 111.8 L481.6 111.8 L482.4 111.8 L483.2 111.8 L484.1 111.8 L484.9 111.8 L485.7 111.8 L486.6 111.8 L487.4 111.8 L488.2 111.9 L489.1 111.9 L489.9 111.9 L490.7 111.9 L491.6 111.9 L492.4 111.9 L493.2 111.9 L494.1 111.9 L494.9 111.9 L495.7 112.0 L496.6 112.0 L497.4 112.0 L498.2 112.0 L499.1 112.0 L499.9 112.0 L500.7 112.0 L501.6 112.0 L502.4 112.0 L503.2 112.1 L504.1 112.1 L504.9 112.1 L505.7 112.1 L506.6 112.1 L507.4 112.1 L508.2 112.1 L509.0 112.1 L509.9 112.1 L510.7 112.2 L511.5 112.2 L512.4 112.2 L513.2 112.2 L514.0 112.2 L514.9 112.2 L515.7 112.2 L516.5 112.2 L517.4 112.2 L518.2 112.3 L519.0 112.3 L519.9 112.3 L520.7 112.3 L521.5 112.3 L522.4 112.3 L523.2 112.3 L524.0 112.3 L524.9 112.3 L525.7 112.4 L526.5 112.4 L527.4 112.4 L528.2 112.4 L529.0 112.4 L529.9 112.4 L530.7 112.4 L531.5 112.4 L532.3 112.4 L533.2 112.5 L534.0 112.5 L534.8 112.5 L535.7 112.5 L536.5 112.5 L537.3 112.5 L538.2 112.5 L539.0 112.5 L539.8 112.5 L540.7 112.6 L541.5 112.6 L542.3 112.6 L543.2 112.6 L544.0 112.6" stroke="#0072bd" stroke-dasharray="7.7 7.8" stroke-dashoffset="-1"/>
<path d="M51.0 363.0 L51.8 361.6 L52.6 359.8 L53.4 357.7 L54.2 355.5 L55.0 353.0 L55.7 350.5 L56.4 347.7 L57.1 344.6 L57.9 341.2 L58.6 337.7 L59.3 334.0 L60.0 330.1 L60.7 325.8 L61.4 321.3 L62.1 316.7 L62.8 312.3 L63.6 307.7 L64.4 303.3 L65.2 298.6 L66.0 293.0 L66.7 286.5 L67.5 278.6 L68.2 270.3 L68.9 262.5 L69.6 255.4 L70.3 248.5 L71.1 241.6 L71.8 234.5 L72.6 225.9 L73.4 216.7 L74.2 207.6 L75.0 199.3 L75.8 192.3 L76.5 187.6 L77.3 183.6 L78.0 178.9 L78.6 174.0 L79.1 168.3 L79.7 162.8 L80.4 156.4 L81.1 150.0 L81.8 143.8 L82.5 138.3 L83.2 133.7 L84.0 129.7 L84.8 126.4 L85.5 123.3 L86.3 120.0 L87.1 116.5 L87.8 112.9 L88.6 108.7 L89.4 102.7 L90.1 95.6 L90.9 89.7 L91.6 85.7 L92.3 82.3 L93.1 79.3 L93.8 76.6 L94.5 74.1 L95.3 71.8 L96.0 69.8 L96.8 68.0 L97.5 66.5 L98.2 65.2 L98.8 64.0 L99.5 63.2 L100.2 62.6 L101.0 62.0 L101.7 61.6 L102.5 61.3 L103.2 61.2 L103.9 61.3 L104.6 61.5 L105.3 61.8 L106.0 62.2 L106.7 62.6 L107.3 63.1 L107.9 63.7 L108.6 64.4 L109.3 65.4 L110.1 66.7 L110.8 68.1 L111.5 69.7 L112.3 71.4 L113.0 73.1 L113.8 75.0 L114.6 77.2 L115.4 79.4 L116.2 81.7 L117.0 83.9 L117.8 86.0 L118.6 88.0 L119.4 89.8 L120.2 91.7 L121.0 93.5 L121.8 95.2 L122.5 96.8 L123.2 98.4 L124.0 100.0 L124.8 101.6 L125.6 103.2 L126.4 104.8 L127.2 106.5 L128.0 108.2 L128.8 110.1 L129.6 112.1 L130.4 114.3 L131.3 116.4 L132.1 118.5 L132.9 120.4 L133.7 122.2 L134.4 123.7 L135.2 125.2 L135.9 126.6 L136.6 128.0 L137.4 129.3 L138.1 130.5 L138.9 131.6 L139.6 132.5 L140.4 133.4 L141.2 134.3 L142.0 135.1 L142.8 135.8 L143.6 136.5 L144.4 137.2 L145.2 137.7 L146.0 138.2 L146.8 138.5 L147.6 138.8 L148.4 139.1 L149.1 139.3 L149.9 139.5 L150.7 139.7 L151.4 139.9 L152.2 140.0 L153.0 140.0 L153.7 140.0 L154.4 139.9 L155.1 139.8 L155.9 139.7 L156.6 139.5 L157.3 139.4 L158.0 139.2 L158.8 139.0 L159.6 138.7 L160.4 138.4 L161.2 138.0 L162.0 137.6 L162.8 137.2 L163.6 136.7 L164.4 136.2 L165.1 135.5 L165.9 134.8 L166.7 134.1 L167.4 133.4 L168.2 132.7 L169.0 132.0 L169.8 131.4 L170.5 130.7 L171.2 130.1 L172.0 129.4 L172.8 128.8 L173.5 128.2 L174.2 127.6 L175.0 127.0 L175.8 126.4 L176.6 125.9 L177.3 125.4 L178.1 124.9 L178.9 124.5 L179.7 124.0 L180.4 123.5 L181.2 123.0 L182.0 122.5 L182.8 122.0 L183.5 121.4 L184.3 120.8 L185.0 120.2 L185.8 119.6 L186.5 119.0 L187.3 118.5 L188.0 118.1 L188.8 117.8 L189.6 117.5 L190.4 117.3 L191.1 117.0 L191.9 116.8 L192.7 116.6 L193.4 116.4 L194.2 116.3 L195.0 116.3 L195.8 116.3 L196.6 116.3 L197.3 116.3 L198.1 116.3 L198.9 116.3 L199.7 116.3 L200.4 116.3 L201.2 116.3 L202.0 116.3 L202.8 116.3 L203.6 116.3 L204.4 116.2 L205.2 116.2 L206.0 116.2 L206.8 116.1 L207.6 116.1 L208.4 116.0 L209.2 116.0 L210.0 116.0 L210.8 116.0 L211.6 116.0 L212.4 116.1 L213.2 116.1 L214.0 116.1 L214.8 116.2 L215.5 116.2 L216.3 116.3 L217.1 116.4 L217.9 116.5 L218.7 116.5 L219.5 116.6 L220.3 116.7 L221.1 116.8 L221.9 116.9 L222.7 117.1 L223.5 117.3 L224.2 117.4 L225.0 117.6 L225.8 117.8 L226.6 118.0 L227.4 118.1 L228.2 118.3 L229.0 118.4 L229.8 118.5 L230.6 118.6 L231.4 118.7 L232.1 118.8 L232.9 118.9 L233.7 119.0 L234.5 119.1 L235.3 119.2 L236.1 119.3 L236.9 119.4 L237.6 119.5 L238.4 119.5 L239.2 119.6 L240.0 119.7 L240.8 119.8 L241.6 119.9 L242.4 120.0 L243.2 120.1 L244.1 120.1 L244.9 120.2 L245.7 120.3 L246.5 120.4 L247.3 120.5 L248.1 120.6 L248.9 120.6 L249.8 120.7 L250.6 120.7 L251.4 120.8 L252.2 120.8 L253.0 120.8 L253.8 120.8 L254.6 120.8 L255.4 120.7 L256.2 120.6 L257.0 120.5 L257.8 120.4 L258.6 120.3 L259.4 120.2 L260.2 120.1 L261.0 120.0 L261.8 119.9 L262.6 119.8 L263.4 119.7 L264.2 119.6 L265.0 119.5 L265.8 119.4 L266.6 119.4 L267.4 119.3 L268.2 119.2 L269.0 119.1 L269.8 119.1 L270.6 119.0 L271.4 118.9 L272.2 118.8 L273.0 118.8 L273.8 118.7 L274.6 118.6 L275.4 118.5 L276.2 118.5 L277.0 118.4 L277.8 118.4 L278.6 118.3 L279.4 118.2 L280.2 118.2 L281.0 118.2 L281.8 118.1 L282.6 118.1 L283.4 118.0 L284.2 118.0 L285.0 118.0 L285.8 118.0 L286.6 118.0 L287.4 118.0 L288.2 117.9 L289.0 117.9 L289.8 117.9 L290.6 117.9 L291.5 117.9 L292.3 117.9 L293.1 117.9 L293.9 117.9 L294.7 117.8 L295.5 117.8 L296.3 117.8 L297.1 117.8 L297.9 117.8 L298.7 117.8 L299.5 117.8 L300.3 117.8 L301.1 117.8 L301.9 117.8 L302.7 117.8 L303.5 117.8 L304.4 117.7 L305.2 117.7 L306.0 117.7 L306.8 117.7 L307.6 117.7 L308.4 117.7 L309.2 117.7 L310.0 117.7 L310.8 117.7 L311.7 117.7 L312.5 117.7 L313.3 117.7 L314.2 117.7 L315.0 117.7 L315.8 117.7 L316.7 117.6 L317.5 117.6 L318.3 117.6 L319.2 117.6 L320.0 117.6 L320.8 117.6 L321.7 117.6 L322.5 117.6 L323.3 117.6 L324.2 117.6 L325.0 117.6 L325.8 117.6 L326.7 117.6 L327.5 117.6 L328.3 117.6 L329.2 117.5 L330.0 117.5 L330.8 117.5 L331.7 117.5 L332.5 117.5 L333.3 117.5 L334.1 117.5 L335.0 117.5 L335.8 117.5 L336.6 117.5 L337.5 117.5 L338.3 117.5 L339.1 117.5 L340.0 117.5 L340.8 117.5 L341.6 117.4 L342.5 117.4 L343.3 117.4 L344.1 117.4 L345.0 117.4 L345.8 117.4 L346.6 117.4 L347.5 117.4 L348.3 117.4 L349.1 117.4 L350.0 117.4 L350.8 117.4 L351.6 117.4 L352.5 117.4 L353.3 117.4 L354.1 117.4 L355.0 117.3 L355.8 117.3 L356.6 117.3 L357.5 117.3 L358.3 117.3 L359.1 117.3 L360.0 117.3 L360.8 117.3 L361.6 117.3 L362.5 117.3 L363.3 117.3 L364.1 117.3 L365.0 117.3 L365.8 117.3 L366.6 117.3 L367.5 117.3 L368.3 117.2 L369.1 117.2 L370.0 117.2 L370.8 117.2 L371.6 117.2 L372.5 117.2 L373.3 117.2 L374.1 117.2 L375.0 117.2 L375.8 117.2 L376.6 117.2 L377.5 117.2 L378.3 117.2 L379.1 117.2 L380.0 117.2 L380.8 117.2 L381.6 117.2 L382.4 117.1 L383.3 117.1 L384.1 117.1 L384.9 117.1 L385.8 117.1 L386.6 117.1 L387.4 117.1 L388.3 117.1 L389.1 117.1 L389.9 117.1 L390.8 117.1 L391.6 117.1 L392.4 117.1 L393.3 117.1 L394.1 117.1 L394.9 117.1 L395.8 117.1 L396.6 117.1 L397.4 117.0 L398.3 117.0 L399.1 117.0 L399.9 117.0 L400.8 117.0 L401.6 117.0 L402.4 117.0 L403.3 117.0 L404.1 117.0 L404.9 117.0 L405.8 117.0 L406.6 117.0 L407.4 117.0 L408.3 117.0 L409.1 117.0 L409.9 117.0 L410.8 117.0 L411.6 117.0 L412.4 117.0 L413.3 116.9 L414.1 116.9 L414.9 116.9 L415.8 116.9 L416.6 116.9 L417.4 116.9 L418.3 116.9 L419.1 116.9 L419.9 116.9 L420.8 116.9 L421.6 116.9 L422.4 116.9 L423.3 116.9 L424.1 116.9 L424.9 116.9 L425.8 116.9 L426.6 116.9 L427.4 116.9 L428.2 116.9 L429.1 116.9 L429.9 116.8 L430.7 116.8 L431.6 116.8 L432.4 116.8 L433.2 116.8 L434.1 116.8 L434.9 116.8 L435.7 116.8 L436.6 116.8 L437.4 116.8 L438.2 116.8 L439.1 116.8 L439.9 116.8 L440.7 116.8 L441.6 116.8 L442.4 116.8 L443.2 116.8 L444.1 116.8 L444.9 116.8 L445.7 116.8 L446.6 116.8 L447.4 116.8 L448.2 116.8 L449.1 116.7 L449.9 116.7 L450.7 116.7 L451.6 116.7 L452.4 116.7 L453.2 116.7 L454.1 116.7 L454.9 116.7 L455.7 116.7 L456.6 116.7 L457.4 116.7 L458.2 116.7 L459.1 116.7 L459.9 116.7 L460.7 116.7 L461.6 116.7 L462.4 116.7 L463.2 116.7 L464.1 116.7 L464.9 116.7 L465.7 116.7 L466.6 116.7 L467.4 116.7 L468.2 116.7 L469.1 116.7 L469.9 116.7 L470.7 116.7 L471.6 116.6 L472.4 116.6 L473.2 116.6 L474.0 116.6 L474.9 116.6 L475.7 116.6 L476.5 116.6 L477.4 116.6 L478.2 116.6 L479.0 116.6 L479.9 116.6 L480.7 116.6 L481.5 116.6 L482.4 116.6 L483.2 116.6 L484.0 116.6 L484.9 116.6 L485.7 116.6 L486.5 116.6 L487.4 116.6 L488.2 116.6 L489.0 116.6 L489.9 116.6 L490.7 116.6 L491.5 116.6 L492.4 116.6 L493.2 116.6 L494.0 116.6 L494.9 116.6 L495.7 116.6 L496.5 116.6 L497.4 116.6 L498.2 116.6 L499.0 116.6 L499.9 116.6 L500.7 116.6 L501.5 116.6 L502.4 116.6 L503.2 116.5 L504.0 116.5 L504.9 116.5 L505.7 116.5 L506.5 116.5 L507.4 116.5 L508.2 116.5 L509.0 116.5 L509.9 116.5 L510.7 116.5 L511.5 116.5 L512.4 116.5 L513.2 116.5 L514.0 116.5 L514.9 116.5 L515.7 116.5 L516.5 116.5 L517.4 116.5 L518.2 116.5 L519.0 116.5 L519.9 116.5 L520.7 116.5 L521.5 116.5 L522.3 116.5 L523.2 116.5 L524.0 116.5 L524.8 116.5 L525.7 116.5 L526.5 116.5 L527.3 116.5 L528.2 116.5 L529.0 116.5 L529.8 116.5 L530.7 116.5 L531.5 116.5 L532.3 116.5 L533.2 116.5 L534.0 116.5 L534.8 116.5 L535.7 116.5 L536.5 116.5 L537.3 116.5 L538.2 116.5 L539.0 116.5 L539.8 116.5 L540.7 116.5 L541.5 116.5 L542.3 116.5 L543.2 116.5 L544.0 116.5" stroke="#a2142f" stroke-dasharray="7.3 2.7 2.6 2.9" stroke-dashoffset="-4.5"/>
<path d="M51.0 363.0 L51.8 361.8 L52.6 360.1 L53.5 358.0 L54.3 355.6 L55.1 353.0 L55.9 350.1 L56.7 346.6 L57.4 342.6 L58.2 338.3 L59.0 334.0 L59.7 330.1 L60.4 325.8 L61.0 321.4 L61.7 316.8 L62.4 312.3 L63.1 307.7 L63.8 303.0 L64.5 298.1 L65.2 293.0 L65.9 287.4 L66.6 281.4 L67.4 275.2 L68.1 268.9 L68.8 262.5 L69.5 255.8 L70.3 249.0 L71.0 241.9 L71.8 234.5 L72.5 226.2 L73.3 217.1 L74.0 207.9 L74.8 199.4 L75.5 192.3 L76.2 187.7 L76.8 183.7 L77.5 178.9 L78.2 171.3 L78.9 162.8 L79.6 155.0 L80.3 147.2 L81.0 139.9 L81.7 133.7 L82.4 128.8 L83.0 124.5 L83.7 120.5 L84.5 116.3 L85.2 112.5 L86.0 108.7 L86.7 105.4 L87.3 102.2 L87.9 98.9 L88.6 95.5 L89.4 91.1 L90.1 86.5 L90.9 82.4 L91.6 79.3 L92.3 76.5 L93.0 74.0 L93.8 71.5 L94.5 69.2 L95.3 67.1 L96.0 65.1 L96.8 63.2 L97.5 61.5 L98.2 60.0 L98.8 58.7 L99.5 57.8 L100.1 57.2 L100.8 56.8 L101.4 56.4 L102.0 56.3 L102.8 56.3 L103.5 56.4 L104.2 56.5 L105.0 56.6 L105.7 56.8 L106.4 57.2 L107.1 57.7 L107.8 58.3 L108.5 59.4 L109.3 61.0 L110.0 62.6 L110.8 64.3 L111.6 66.0 L112.4 67.8 L113.2 69.6 L114.0 71.5 L114.8 73.4 L115.6 75.2 L116.4 77.2 L117.2 79.1 L118.0 81.2 L118.8 83.3 L119.6 85.6 L120.4 88.1 L121.2 90.6 L122.0 93.0 L122.8 95.4 L123.6 97.8 L124.4 100.1 L125.2 102.4 L126.0 104.5 L126.7 106.3 L127.4 108.0 L128.1 109.7 L128.9 111.3 L129.6 112.9 L130.3 114.4 L131.0 116.0 L131.8 117.8 L132.6 119.5 L133.4 121.3 L134.2 122.9 L135.0 124.5 L135.8 126.0 L136.5 127.5 L137.3 129.0 L138.1 130.4 L138.8 131.6 L139.6 132.5 L140.3 133.2 L141.0 133.8 L141.8 134.3 L142.5 134.8 L143.2 135.2 L143.9 135.6 L144.7 135.9 L145.4 136.3 L146.2 136.6 L146.9 136.9 L147.7 137.1 L148.5 137.3 L149.2 137.5 L150.0 137.6 L150.7 137.7 L151.4 137.8 L152.1 137.8 L152.9 137.9 L153.6 138.0 L154.3 138.0 L155.0 138.0 L155.7 137.9 L156.4 137.7 L157.1 137.3 L157.9 136.9 L158.6 136.5 L159.3 136.0 L160.0 135.5 L160.7 135.0 L161.4 134.4 L162.2 133.7 L162.9 133.1 L163.6 132.5 L164.4 131.9 L165.3 131.4 L166.1 130.8 L166.9 130.3 L167.7 129.8 L168.6 129.2 L169.4 128.6 L170.2 128.0 L170.9 127.2 L171.7 126.5 L172.5 125.7 L173.3 125.0 L174.0 124.2 L174.8 123.6 L175.6 123.0 L176.4 122.5 L177.1 122.0 L177.9 121.4 L178.7 121.0 L179.4 120.5 L180.2 119.9 L181.0 119.4 L181.8 118.8 L182.5 118.2 L183.2 117.6 L184.0 116.9 L184.8 116.3 L185.5 115.7 L186.2 115.2 L187.0 114.8 L187.7 114.4 L188.5 114.1 L189.2 113.8 L190.0 113.4 L190.7 113.2 L191.5 112.9 L192.2 112.7 L193.0 112.5 L193.7 112.3 L194.5 112.1 L195.2 112.0 L196.0 111.8 L196.8 111.7 L197.6 111.5 L198.3 111.4 L199.1 111.3 L199.9 111.3 L200.6 111.2 L201.4 111.2 L202.2 111.2 L203.0 111.2 L203.8 111.2 L204.6 111.2 L205.4 111.2 L206.2 111.2 L207.0 111.3 L207.8 111.3 L208.6 111.3 L209.4 111.3 L210.2 111.4 L211.1 111.6 L211.9 111.7 L212.7 111.9 L213.5 112.1 L214.3 112.3 L215.2 112.5 L216.0 112.6 L216.8 112.8 L217.6 112.9 L218.4 113.1 L219.2 113.2 L220.0 113.3 L220.8 113.5 L221.6 113.6 L222.4 113.7 L223.2 113.9 L224.0 114.0 L224.8 114.2 L225.6 114.3 L226.5 114.5 L227.3 114.6 L228.1 114.8 L228.9 115.0 L229.8 115.1 L230.6 115.3 L231.4 115.4 L232.2 115.5 L233.0 115.7 L233.8 115.8 L234.6 115.9 L235.4 116.0 L236.2 116.1 L237.0 116.2 L237.8 116.3 L238.6 116.3 L239.4 116.3 L240.2 116.4 L241.0 116.4 L241.9 116.4 L242.7 116.4 L243.5 116.4 L244.3 116.4 L245.1 116.5 L245.9 116.5 L246.7 116.5 L247.6 116.5 L248.4 116.5 L249.2 116.5 L250.0 116.5 L250.8 116.5 L251.6 116.5 L252.4 116.5 L253.2 116.5 L253.9 116.5 L254.7 116.4 L255.5 116.4 L256.3 116.4 L257.1 116.4 L257.9 116.3 L258.7 116.3 L259.5 116.3 L260.3 116.2 L261.1 116.2 L261.8 116.2 L262.6 116.1 L263.4 116.1 L264.2 116.0 L265.0 116.0 L265.8 115.9 L266.6 115.9 L267.4 115.8 L268.2 115.7 L268.9 115.6 L269.7 115.4 L270.5 115.3 L271.3 115.2 L272.1 115.0 L272.9 114.9 L273.7 114.7 L274.5 114.6 L275.3 114.5 L276.1 114.4 L276.8 114.3 L277.6 114.2 L278.4 114.1 L279.2 114.0 L280.0 114.0 L280.8 114.0 L281.6 114.0 L282.4 113.9 L283.2 113.9 L284.0 113.9 L284.8 113.9 L285.6 113.9 L286.4 113.8 L287.2 113.8 L288.0 113.8 L288.8 113.8 L289.6 113.8 L290.4 113.8 L291.2 113.8 L292.0 113.8 L292.8 113.7 L293.6 113.7 L294.4 113.7 L295.2 113.7 L296.0 113.7 L296.8 113.7 L297.6 113.7 L298.4 113.7 L299.2 113.7 L300.0 113.7 L300.8 113.7 L301.7 113.7 L302.5 113.7 L303.3 113.7 L304.2 113.7 L305.0 113.7 L305.8 113.7 L306.7 113.7 L307.5 113.7 L308.3 113.7 L309.2 113.7 L310.0 113.7 L310.8 113.7 L311.7 113.7 L312.5 113.7 L313.3 113.7 L314.2 113.7 L315.0 113.7 L315.8 113.7 L316.7 113.7 L317.5 113.7 L318.3 113.7 L319.2 113.7 L320.0 113.7 L320.8 113.7 L321.7 113.7 L322.5 113.7 L323.3 113.7 L324.2 113.7 L325.0 113.7 L325.8 113.7 L326.6 113.7 L327.5 113.7 L328.3 113.7 L329.1 113.7 L330.0 113.7 L330.8 113.7 L331.6 113.7 L332.5 113.7 L333.3 113.7 L334.1 113.7 L335.0 113.7 L335.8 113.7 L336.6 113.7 L337.5 113.7 L338.3 113.7 L339.1 113.7 L340.0 113.7 L340.8 113.7 L341.6 113.7 L342.5 113.7 L343.3 113.7 L344.1 113.7 L345.0 113.7 L345.8 113.7 L346.6 113.7 L347.5 113.7 L348.3 113.7 L349.1 113.7 L350.0 113.7 L350.8 113.7 L351.6 113.7 L352.5 113.7 L353.3 113.7 L354.1 113.7 L355.0 113.7 L355.8 113.7 L356.6 113.7 L357.5 113.7 L358.3 113.7 L359.1 113.7 L360.0 113.7 L360.8 113.7 L361.6 113.7 L362.5 113.7 L363.3 113.7 L364.1 113.7 L365.0 113.7 L365.8 113.7 L366.6 113.7 L367.5 113.7 L368.3 113.7 L369.1 113.7 L370.0 113.7 L370.8 113.7 L371.6 113.7 L372.5 113.7 L373.3 113.7 L374.1 113.7 L374.9 113.7 L375.8 113.7 L376.6 113.7 L377.4 113.7 L378.3 113.7 L379.1 113.7 L379.9 113.7 L380.8 113.7 L381.6 113.7 L382.4 113.7 L383.3 113.7 L384.1 113.7 L384.9 113.7 L385.8 113.7 L386.6 113.7 L387.4 113.7 L388.3 113.7 L389.1 113.7 L389.9 113.7 L390.8 113.7 L391.6 113.7 L392.4 113.7 L393.3 113.7 L394.1 113.7 L394.9 113.7 L395.8 113.7 L396.6 113.7 L397.4 113.7 L398.3 113.7 L399.1 113.7 L399.9 113.7 L400.8 113.7 L401.6 113.7 L402.4 113.7 L403.3 113.7 L404.1 113.7 L404.9 113.7 L405.8 113.7 L406.6 113.7 L407.4 113.7 L408.3 113.7 L409.1 113.7 L409.9 113.7 L410.8 113.7 L411.6 113.7 L412.4 113.7 L413.3 113.7 L414.1 113.7 L414.9 113.7 L415.8 113.7 L416.6 113.7 L417.4 113.7 L418.3 113.7 L419.1 113.7 L419.9 113.7 L420.8 113.7 L421.6 113.7 L422.4 113.7 L423.2 113.7 L424.1 113.7 L424.9 113.7 L425.7 113.7 L426.6 113.7 L427.4 113.7 L428.2 113.7 L429.1 113.7 L429.9 113.7 L430.7 113.7 L431.6 113.7 L432.4 113.7 L433.2 113.7 L434.1 113.7 L434.9 113.7 L435.7 113.7 L436.6 113.7 L437.4 113.7 L438.2 113.7 L439.1 113.7 L439.9 113.7 L440.7 113.7 L441.6 113.7 L442.4 113.7 L443.2 113.7 L444.1 113.7 L444.9 113.7 L445.7 113.7 L446.6 113.7 L447.4 113.7 L448.2 113.7 L449.1 113.7 L449.9 113.7 L450.7 113.7 L451.6 113.7 L452.4 113.7 L453.2 113.7 L454.1 113.7 L454.9 113.7 L455.7 113.7 L456.6 113.7 L457.4 113.7 L458.2 113.7 L459.1 113.7 L459.9 113.7 L460.7 113.7 L461.6 113.7 L462.4 113.7 L463.2 113.7 L464.1 113.7 L464.9 113.7 L465.7 113.7 L466.6 113.7 L467.4 113.7 L468.2 113.7 L469.1 113.7 L469.9 113.7 L470.7 113.7 L471.5 113.7 L472.4 113.7 L473.2 113.7 L474.0 113.7 L474.9 113.7 L475.7 113.7 L476.5 113.7 L477.4 113.7 L478.2 113.7 L479.0 113.7 L479.9 113.7 L480.7 113.7 L481.5 113.7 L482.4 113.7 L483.2 113.7 L484.0 113.7 L484.9 113.7 L485.7 113.7 L486.5 113.7 L487.4 113.7 L488.2 113.7 L489.0 113.7 L489.9 113.7 L490.7 113.7 L491.5 113.7 L492.4 113.7 L493.2 113.7 L494.0 113.7 L494.9 113.7 L495.7 113.7 L496.5 113.7 L497.4 113.7 L498.2 113.7 L499.0 113.7 L499.9 113.7 L500.7 113.7 L501.5 113.7 L502.4 113.7 L503.2 113.7 L504.0 113.7 L504.9 113.7 L505.7 113.7 L506.5 113.7 L507.4 113.7 L508.2 113.7 L509.0 113.7 L509.9 113.7 L510.7 113.7 L511.5 113.7 L512.4 113.7 L513.2 113.7 L514.0 113.7 L514.9 113.7 L515.7 113.7 L516.5 113.7 L517.4 113.7 L518.2 113.7 L519.0 113.7 L519.8 113.7 L520.7 113.7 L521.5 113.7 L522.3 113.7 L523.2 113.7 L524.0 113.7 L524.8 113.7 L525.7 113.7 L526.5 113.7 L527.3 113.7 L528.2 113.7 L529.0 113.7 L529.8 113.7 L530.7 113.7 L531.5 113.7 L532.3 113.7 L533.2 113.7 L534.0 113.7 L534.8 113.7 L535.7 113.7 L536.5 113.7 L537.3 113.7 L538.2 113.7 L539.0 113.7 L539.8 113.7 L540.7 113.7 L541.5 113.7 L542.3 113.7 L543.2 113.7 L544.0 113.7" stroke="#0000ff" stroke-dasharray="7.7 7.8" stroke-dashoffset="-5"/>
</g>
<g stroke="#3a3a3a" stroke-width="1.5"><line x1="51.00" y1="363.00" x2="51.00" y2="358.00"/><line x1="51.00" y1="13.55" x2="51.00" y2="18.55"/><line x1="133.15" y1="363.00" x2="133.15" y2="358.00"/><line x1="133.15" y1="13.55" x2="133.15" y2="18.55"/><line x1="215.30" y1="363.00" x2="215.30" y2="358.00"/><line x1="215.30" y1="13.55" x2="215.30" y2="18.55"/><line x1="297.45" y1="363.00" x2="297.45" y2="358.00"/><line x1="297.45" y1="13.55" x2="297.45" y2="18.55"/><line x1="379.60" y1="363.00" x2="379.60" y2="358.00"/><line x1="379.60" y1="13.55" x2="379.60" y2="18.55"/><line x1="461.75" y1="363.00" x2="461.75" y2="358.00"/><line x1="461.75" y1="13.55" x2="461.75" y2="18.55"/><line x1="543.90" y1="363.00" x2="543.90" y2="358.00"/><line x1="543.90" y1="13.55" x2="543.90" y2="18.55"/><line x1="51.00" y1="363.00" x2="56.00" y2="363.00"/><line x1="543.90" y1="363.00" x2="538.90" y2="363.00"/><line x1="51.00" y1="313.08" x2="56.00" y2="313.08"/><line x1="543.90" y1="313.08" x2="538.90" y2="313.08"/><line x1="51.00" y1="263.16" x2="56.00" y2="263.16"/><line x1="543.90" y1="263.16" x2="538.90" y2="263.16"/><line x1="51.00" y1="213.24" x2="56.00" y2="213.24"/><line x1="543.90" y1="213.24" x2="538.90" y2="213.24"/><line x1="51.00" y1="163.31" x2="56.00" y2="163.31"/><line x1="543.90" y1="163.31" x2="538.90" y2="163.31"/><line x1="51.00" y1="113.39" x2="56.00" y2="113.39"/><line x1="543.90" y1="113.39" x2="538.90" y2="113.39"/><line x1="51.00" y1="63.47" x2="56.00" y2="63.47"/><line x1="543.90" y1="63.47" x2="538.90" y2="63.47"/><line x1="51.00" y1="13.55" x2="56.00" y2="13.55"/><line x1="543.90" y1="13.55" x2="538.90" y2="13.55"/></g>
<line x1="50.0" y1="13.55" x2="544.9" y2="13.55" stroke="#454545" stroke-width="1.4"/>
<line x1="50.0" y1="363.0" x2="544.9" y2="363.0" stroke="#6c6c6c" stroke-width="2"/>
<line x1="51.0" y1="13.55" x2="51.0" y2="364.0" stroke="#808080" stroke-width="2"/>
<line x1="543.9" y1="13.55" x2="543.9" y2="364.0" stroke="#707070" stroke-width="2"/>
<g font-size="14" fill="#262626"><text x="50.20" y="381.3" text-anchor="middle">0</text><text x="132.35" y="381.3" text-anchor="middle">0.5</text><text x="214.50" y="381.3" text-anchor="middle">1</text><text x="296.65" y="381.3" text-anchor="middle">1.5</text><text x="378.80" y="381.3" text-anchor="middle">2</text><text x="460.95" y="381.3" text-anchor="middle">2.5</text><text x="543.10" y="381.3" text-anchor="middle">3</text><text x="44.6" y="368.50" text-anchor="end">0</text><text x="44.6" y="318.58" text-anchor="end">0.2</text><text x="44.6" y="268.66" text-anchor="end">0.4</text><text x="44.6" y="218.74" text-anchor="end">0.6</text><text x="44.6" y="168.81" text-anchor="end">0.8</text><text x="44.6" y="118.89" text-anchor="end">1</text><text x="44.6" y="68.97" text-anchor="end">1.2</text><text x="44.6" y="19.05" text-anchor="end">1.4</text></g>
<text x="298.4" y="400.8" font-size="15.4" text-anchor="middle" fill="#262626">Time (s)</text>
<text transform="translate(17.5,187.5) rotate(-90) scale(0.913,1)" font-size="15.4" text-anchor="middle" fill="#262626">Amplitude</text>
<rect x="324.1" y="211.9" width="192.00" height="128.00" fill="#fff" stroke="#626262" stroke-width="1.8"/>
<g fill="none" stroke-width="2.4"><line x1="327.9" y1="220.6" x2="365.9" y2="220.6" stroke="#000000"/><line x1="327.9" y1="236.0" x2="365.9" y2="236.0" stroke="#ff0000" stroke-dasharray="7.7 7.8"/><line x1="327.9" y1="251.4" x2="365.9" y2="251.4" stroke="#d95319" stroke-dasharray="7.3 2.7 2.6 2.9"/><line x1="327.9" y1="268.0" x2="365.9" y2="268.0" stroke="#7e2f8e" stroke-dasharray="7.7 7.8"/><line x1="327.9" y1="284.9" x2="365.9" y2="284.9" stroke="#ff00ff" stroke-dasharray="7.3 2.7 2.6 2.9"/><line x1="327.9" y1="300.2" x2="365.9" y2="300.2" stroke="#0072bd" stroke-dasharray="7.7 7.8"/><line x1="327.9" y1="315.2" x2="365.9" y2="315.2" stroke="#a2142f" stroke-dasharray="7.3 2.7 2.6 2.9"/><line x1="327.9" y1="330.6" x2="365.9" y2="330.6" stroke="#0000ff" stroke-dasharray="7.7 7.8"/></g>
<g font-size="12.4" fill="#000"><text x="369.6" y="226.5">SSA-FOPID (proposed)</text><text x="369.6" y="241.7">WOA-FOPID</text><text x="369.6" y="256.2">DE-PID [15]</text><text x="369.6" y="275.5">PSO-PIDD<tspan dy="-6.3" font-size="9.6">2</tspan><tspan dy="6.3"> [16]</tspan></text><text x="369.6" y="290.4">ABC-PID [15]</text><text x="369.6" y="305.4">GOA-PID [17]</text><text x="369.6" y="321.0">BBO-PID [18]</text><text x="369.6" y="336.0">PSA-PID [19]</text></g>
</svg>
</body></html>
